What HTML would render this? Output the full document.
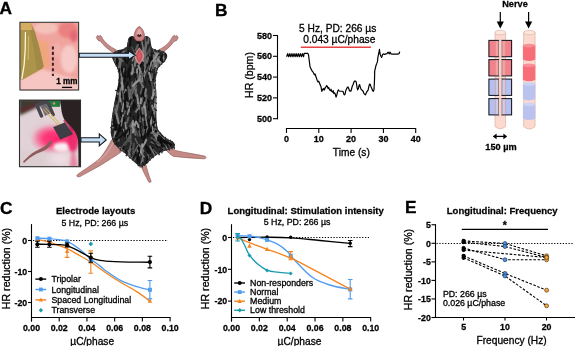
<!DOCTYPE html>
<html><head><meta charset="utf-8"><style>
html,body{margin:0;padding:0;background:#fff;overflow:hidden}
svg{display:block;will-change:transform}
text{font-family:"Liberation Sans",sans-serif}
</style></head><body>
<svg width="575" height="346" viewBox="0 0 575 346">
<text x="0" y="0" transform="translate(-0.6,13.6) scale(1,1.0)" font-size="17.3" font-weight="bold" text-anchor="start" fill="#000" stroke="#000" stroke-width="0.35" >A</text>
<text x="0" y="0" transform="translate(215.1,15.9) scale(1,1.0)" font-size="17.3" font-weight="bold" text-anchor="start" fill="#000" stroke="#000" stroke-width="0.35" >B</text>
<text x="0" y="0" transform="translate(-0.1,214.0) scale(1,1.0)" font-size="17.3" font-weight="bold" text-anchor="start" fill="#000" stroke="#000" stroke-width="0.35" >C</text>
<text x="0" y="0" transform="translate(199.8,213.6) scale(1,1.0)" font-size="17.3" font-weight="bold" text-anchor="start" fill="#000" stroke="#000" stroke-width="0.35" >D</text>
<text x="0" y="0" transform="translate(405.1,213.4) scale(1,1.0)" font-size="17.3" font-weight="bold" text-anchor="start" fill="#000" stroke="#000" stroke-width="0.35" >E</text>
<g stroke="#000" stroke-width="1.1" fill="none">
<path d="M277.5,35.0 V119.2"/>
<path d="M273.0,35.5 H278"/>
<path d="M273.0,56.3 H278"/>
<path d="M273.0,77.1 H278"/>
<path d="M273.0,97.9 H278"/>
<path d="M273.0,118.7 H278"/>
<path d="M285.95,128.5 H415.7"/>
<path d="M286.5,128 V132.9"/>
<path d="M318.8,128 V132.9"/>
<path d="M351.1,128 V132.9"/>
<path d="M383.4,128 V132.9"/>
<path d="M415.7,128 V132.9"/>
</g>
<text x="0" y="0" transform="translate(271.9,38.55) scale(1,1.1)" font-size="9.0" font-weight="bold" text-anchor="end" fill="#000" stroke="#000" stroke-width="0.26" >580</text>
<text x="0" y="0" transform="translate(271.9,59.349999999999994) scale(1,1.1)" font-size="9.0" font-weight="bold" text-anchor="end" fill="#000" stroke="#000" stroke-width="0.26" >560</text>
<text x="0" y="0" transform="translate(271.9,80.14999999999999) scale(1,1.1)" font-size="9.0" font-weight="bold" text-anchor="end" fill="#000" stroke="#000" stroke-width="0.26" >540</text>
<text x="0" y="0" transform="translate(271.9,100.95) scale(1,1.1)" font-size="9.0" font-weight="bold" text-anchor="end" fill="#000" stroke="#000" stroke-width="0.26" >520</text>
<text x="0" y="0" transform="translate(271.9,121.75) scale(1,1.1)" font-size="9.0" font-weight="bold" text-anchor="end" fill="#000" stroke="#000" stroke-width="0.26" >500</text>
<text x="0" y="0" transform="translate(286.5,141.7) scale(1,1.1)" font-size="9.0" font-weight="bold" text-anchor="middle" fill="#000" stroke="#000" stroke-width="0.26" >0</text>
<text x="0" y="0" transform="translate(318.8,141.7) scale(1,1.1)" font-size="9.0" font-weight="bold" text-anchor="middle" fill="#000" stroke="#000" stroke-width="0.26" >10</text>
<text x="0" y="0" transform="translate(351.1,141.7) scale(1,1.1)" font-size="9.0" font-weight="bold" text-anchor="middle" fill="#000" stroke="#000" stroke-width="0.26" >20</text>
<text x="0" y="0" transform="translate(383.4,141.7) scale(1,1.1)" font-size="9.0" font-weight="bold" text-anchor="middle" fill="#000" stroke="#000" stroke-width="0.26" >30</text>
<text x="0" y="0" transform="translate(415.7,141.7) scale(1,1.1)" font-size="9.0" font-weight="bold" text-anchor="middle" fill="#000" stroke="#000" stroke-width="0.26" >40</text>
<text x="0" y="0" transform="translate(351.3,156.0) scale(1,1.0)" font-size="10.2" text-anchor="middle" fill="#000" stroke="#000" stroke-width="0.3" >Time (s)</text>
<text x="0" y="0" transform="translate(252.7,75.0) rotate(-90) scale(1,1.0)" font-size="10.6" text-anchor="middle" fill="#000" stroke="#000" stroke-width="0.3" >HR (bpm)</text>
<text x="0" y="0" transform="translate(337.7,31.7) scale(1,1.0)" font-size="10.2" text-anchor="middle" fill="#000" stroke="#000" stroke-width="0.3" >5 Hz, PD: 266 µs</text>
<text x="0" y="0" transform="translate(339.3,42.7) scale(1,1.0)" font-size="10.2" text-anchor="middle" fill="#000" stroke="#000" stroke-width="0.3" >0.043 µC/phase</text>
<path d="M300.8,47.2 H370.9" stroke="#ec3f3f" stroke-width="1.5"/>
<polyline points="286.6,56.7 287.66,53.6 288.72,56.7 289.78,53.6 290.84,56.7 291.9,53.6 292.96,56.7 294.02,53.6 295.08,56.7 296.14,53.6 297.2,56.7 298.26,53.6 299.32,56.7 300.38,53.6 301.44,56.7 302.5,53.6 303.56,56.7 304.2,53.4 307.9,53.4 308.58,55.23 309.3,61.01 310.02,66.79 310.75,68.24 311.47,69.69 312.19,71.13 312.91,71.85 313.64,73.3 314.36,74.75 315.08,74.02 315.81,76.19 316.53,78.36 317.25,80.53 317.97,81.97 318.7,81.25 319.42,82.7 320.14,84.87 320.87,86.31 321.3,88.48 321.88,91.37 322.31,89.2 323.03,89.93 323.76,88.48 324.48,89.93 325.2,87.76 325.93,87.03 326.65,85.59 327.37,86.31 328.09,88.48 328.82,87.76 329.54,89.93 330.26,90.65 330.99,89.2 331.71,91.37 332.43,92.09 333.15,90.65 333.88,93.54 334.6,92.82 335.32,94.26 336.05,97.15 336.77,94.99 337.49,92.09 338.21,89.93 338.94,90.65 340.0,91.25 342.89,91.25 343.61,93.42 344.34,94.87 345.06,94.14 345.78,90.53 346.51,89.08 347.23,87.64 347.95,86.91 348.67,88.36 349.4,90.53 350.12,91.25 350.84,91.25 351.57,89.08 352.29,86.19 353.01,84.75 353.73,82.58 354.46,81.13 355.61,81.13 356.19,81.85 356.63,84.75 357.06,87.64 357.64,89.81 358.36,88.36 359.08,85.47 359.66,84.75 360.24,86.91 360.96,89.08 361.69,89.81 362.41,90.53 363.13,91.25 363.85,93.42 364.58,94.14 365.3,94.87 366.02,93.42 366.75,91.97 367.47,90.96 368.19,89.81 368.91,86.19 369.64,84.02 370.36,84.75 371.08,86.91 371.81,88.36 372.53,90.53 373.25,91.25 373.97,89.81 374.41,82.58 374.7,72.46 374.49,72.41 375.19,68.94 376.0,65.46 376.92,63.15 377.5,61.41 377.73,58.52 378.31,55.05 378.89,52.73 379.47,49.26 379.81,52.73 380.28,54.47 380.97,56.2 381.55,57.36 382.13,56.2 382.59,54.47 383.52,53.89 384.68,54.47 385.83,53.89 386.99,53.66 387.57,52.73 388.15,52.15 388.73,53.31 389.31,53.89 389.88,52.15 390.46,52.73 391.04,53.89 392.2,54.12 393.36,54.12 395.09,54.12 397.41,54.12 399.14,53.66 399.72,51.57" fill="none" stroke="#000" stroke-width="1.2" stroke-linejoin="round"/>
<text x="0" y="0" transform="translate(515,7.3) scale(1,1.0)" font-size="9.2" font-weight="bold" text-anchor="middle" fill="#000" stroke="#000" stroke-width="0.26" >Nerve</text>
<path d="M500.3,12.0 V22.5" stroke="#000" stroke-width="1.2"/>
<path d="M496.7,21.5 L500.3,28.5 L503.90000000000003,21.5 Z" fill="#000"/>
<path d="M528.6,12.0 V22.5" stroke="#000" stroke-width="1.2"/>
<path d="M525.0,21.5 L528.6,28.5 L532.2,21.5 Z" fill="#000"/>
<g stroke="#d9a79c" stroke-width="0.6">
<path d="M495,32.5 V126.5 Q500.3,131 505.6,126.5 V32.5 Z" fill="#fbd9cf"/>
<ellipse cx="500.3" cy="32.6" rx="5.3" ry="2.2" fill="#fde6df"/>
</g>
<rect x="488.9" y="40.4" width="9.9" height="16.3" fill="#f3818a" stroke="#15151f" stroke-width="1.05"/>
<rect x="495.3" y="40.9" width="3.5" height="15.3" fill="#fde0d8" opacity="0.35"/>
<rect x="501.7" y="40.4" width="9.9" height="16.3" fill="#f3818a" stroke="#15151f" stroke-width="1.05"/>
<rect x="501.7" y="40.9" width="3.8" height="15.3" fill="#fde0d8" opacity="0.35"/>
<rect x="498.8" y="40.4" width="2.9" height="16.3" fill="#f9d3ca"/>
<path d="M495.4,41.0 V56.099999999999994 M505.4,41.0 V56.099999999999994" stroke="#c88a86" stroke-width="0.6" opacity="0.8"/>
<rect x="488.9" y="59.6" width="9.9" height="16.3" fill="#f3818a" stroke="#15151f" stroke-width="1.05"/>
<rect x="495.3" y="60.1" width="3.5" height="15.3" fill="#fde0d8" opacity="0.35"/>
<rect x="501.7" y="59.6" width="9.9" height="16.3" fill="#f3818a" stroke="#15151f" stroke-width="1.05"/>
<rect x="501.7" y="60.1" width="3.8" height="15.3" fill="#fde0d8" opacity="0.35"/>
<rect x="498.8" y="59.6" width="2.9" height="16.3" fill="#f9d3ca"/>
<path d="M495.4,60.2 V75.3 M505.4,60.2 V75.3" stroke="#c88a86" stroke-width="0.6" opacity="0.8"/>
<rect x="488.9" y="79.1" width="9.9" height="16.3" fill="#b6c0ee" stroke="#15151f" stroke-width="1.05"/>
<rect x="495.3" y="79.6" width="3.5" height="15.3" fill="#fde0d8" opacity="0.35"/>
<rect x="501.7" y="79.1" width="9.9" height="16.3" fill="#b6c0ee" stroke="#15151f" stroke-width="1.05"/>
<rect x="501.7" y="79.6" width="3.8" height="15.3" fill="#fde0d8" opacity="0.35"/>
<rect x="498.8" y="79.1" width="2.9" height="16.3" fill="#f9d3ca"/>
<path d="M495.4,79.69999999999999 V94.8 M505.4,79.69999999999999 V94.8" stroke="#c88a86" stroke-width="0.6" opacity="0.8"/>
<rect x="488.9" y="98.6" width="9.9" height="16.3" fill="#b6c0ee" stroke="#15151f" stroke-width="1.05"/>
<rect x="495.3" y="99.1" width="3.5" height="15.3" fill="#fde0d8" opacity="0.35"/>
<rect x="501.7" y="98.6" width="9.9" height="16.3" fill="#b6c0ee" stroke="#15151f" stroke-width="1.05"/>
<rect x="501.7" y="99.1" width="3.8" height="15.3" fill="#fde0d8" opacity="0.35"/>
<rect x="498.8" y="98.6" width="2.9" height="16.3" fill="#f9d3ca"/>
<path d="M495.4,99.19999999999999 V114.3 M505.4,99.19999999999999 V114.3" stroke="#c88a86" stroke-width="0.6" opacity="0.8"/>
<g stroke="#d9a79c" stroke-width="0.6">
<path d="M523.6,32.5 V126.5 Q529.3,131.5 535.1,126.5 V32.5 Z" fill="#fbd9cf"/>
<ellipse cx="529.35" cy="32.6" rx="5.75" ry="2.2" fill="#fde6df"/>
</g>
<path d="M522.9,45.599999999999994 V59.4 Q529.1,62.6 535.3,59.4 V45.599999999999994 Z" fill="#f76e79"/>
<ellipse cx="529.1" cy="45.599999999999994" rx="6.2" ry="1.8" fill="#f98e96"/>
<path d="M522.9,65.3 V79.7 Q529.1,82.89999999999999 535.3,79.7 V65.3 Z" fill="#f76e79"/>
<ellipse cx="529.1" cy="65.3" rx="6.2" ry="1.8" fill="#f98e96"/>
<path d="M522.9,84.1 V98.80000000000001 Q529.1,102.0 535.3,98.80000000000001 V84.1 Z" fill="#b9c3ee"/>
<ellipse cx="529.1" cy="84.1" rx="6.2" ry="1.8" fill="#cbd2f4"/>
<path d="M522.9,104.39999999999999 V118.5 Q529.1,121.69999999999999 535.3,118.5 V104.39999999999999 Z" fill="#b9c3ee"/>
<ellipse cx="529.1" cy="104.39999999999999" rx="6.2" ry="1.8" fill="#cbd2f4"/>
<path d="M495,136.4 H505" stroke="#000" stroke-width="1.3"/>
<path d="M492.8,136.4 L496.6,133.6 L496.6,139.2 Z M507.2,136.4 L503.4,133.6 L503.4,139.2 Z" fill="#000"/>
<text x="0" y="0" transform="translate(501,150.2) scale(1,1.0)" font-size="9.2" font-weight="bold" text-anchor="middle" fill="#000" stroke="#000" stroke-width="0.26" >150 µm</text>
<defs>
<clipPath id="ph1"><rect x="20.1" y="22.5" width="58.6" height="67.7"/></clipPath>
<clipPath id="ph2"><rect x="19.5" y="100.1" width="61" height="66.7"/></clipPath>
<filter id="bl1" x="-20%" y="-20%" width="140%" height="140%"><feGaussianBlur stdDeviation="1.6"/></filter>
<filter id="bl2" x="-50%" y="-50%" width="200%" height="200%"><feGaussianBlur stdDeviation="4"/></filter>
<filter id="bl04" x="-5%" y="-5%" width="110%" height="110%"><feGaussianBlur stdDeviation="0.7"/></filter>
<filter id="bl05"><feGaussianBlur stdDeviation="0.6"/></filter>
<radialGradient id="glow" cx="0.5" cy="0.5" r="0.5"><stop offset="0" stop-color="#ff1f6a" stop-opacity="1"/><stop offset="0.45" stop-color="#ff2f72" stop-opacity="0.85"/><stop offset="1" stop-color="#ff6a90" stop-opacity="0"/></radialGradient>
<linearGradient id="gold" x1="0" y1="0" x2="1" y2="0"><stop offset="0" stop-color="#c9a24c"/><stop offset="0.35" stop-color="#f3e2a0"/><stop offset="0.5" stop-color="#b59a48"/><stop offset="1" stop-color="#a88f45"/></linearGradient>
</defs>
<g clip-path="url(#ph1)">
<rect x="19" y="22" width="61" height="70" fill="#f0a49e"/>
<g filter="url(#bl1)">
<ellipse cx="46" cy="28" rx="12" ry="6" fill="#f5c2ba"/>
<ellipse cx="68" cy="30" rx="10" ry="8" fill="#ea8080"/>
<ellipse cx="74" cy="36" rx="4" ry="6" fill="#e46674"/>
<ellipse cx="69" cy="59" rx="8.5" ry="14" fill="#f7cac8"/>
<ellipse cx="57" cy="50" rx="4" ry="7" fill="#f2b0aa"/>
<path d="M35,40 L48,42 L50,66 L44,70 Z" fill="#f0a57c"/>
<path d="M19,80 L42,69 L58,74 L80,80 L80,92 L19,92 Z" fill="#f5c6c2"/>
</g>
<path d="M20,22.5 L30.5,22.5 L35,32 L40,50 L43.6,66 L42.5,68.5 L23,79.5 L20,79.5 Z" fill="#ad944c" filter="url(#bl05)"/>
<path d="M31,24 L35,32 L40,50 L43.6,66 L42.5,68.5 L37,70 L34,50 L30,30 Z" fill="#9d8744" opacity="0.8" filter="url(#bl05)"/>
<path d="M20,22.5 L31,22.5 L32.5,30 L20,30 Z" fill="#d4ac62" filter="url(#bl05)"/>
<path d="M25.5,32 L25.2,50 L24,66 L21.8,79" stroke="#fff6d6" stroke-width="1.3" fill="none" filter="url(#bl05)"/>
<path d="M28.5,36 L28.2,60" stroke="#e8d890" stroke-width="0.8" fill="none" opacity="0.7"/>
</g>
<path d="M52.9,46.4 V76" stroke="#3a2226" stroke-width="2.0" stroke-dasharray="3.1,2.35"/>
<text x="0" y="0" transform="translate(66.9,84.4) scale(1,1.05)" font-size="8.1" font-weight="bold" text-anchor="middle" fill="#000" stroke="#000" stroke-width="0.26" >1 mm</text>
<path d="M62.0,87.4 H72.1" stroke="#000" stroke-width="1.3"/>
<rect x="19.9" y="22.3" width="58.7" height="67.7" fill="none" stroke="#3a3a3a" stroke-width="1.1"/>
<g clip-path="url(#ph2)">
<rect x="19" y="99" width="62" height="69" fill="#e0d2d6"/>
<g filter="url(#bl1)">
<path d="M19,99 L62,99 L62,104 L46,104.5 L38,107 L22,114.5 L19,115 Z" fill="#3f3a30"/>
<path d="M19,109 L37,103 L39,105.5 L20,113.5 Z" fill="#5a2c2c"/>
<path d="M19,150 L40,152 L52,146 L72,146 L76,168 L19,168 Z" fill="#dccdd1"/>
</g>
<rect x="48" y="100.3" width="12" height="6.5" fill="#217b3c" filter="url(#bl05)"/>
<circle cx="54" cy="103.5" r="1.3" fill="#d88a8e"/>
<ellipse cx="56" cy="139" rx="26" ry="16" fill="url(#glow)"/>
<ellipse cx="47" cy="137" rx="10" ry="8" fill="#ff2a72" opacity="0.55" filter="url(#bl2)"/>
<ellipse cx="62" cy="147" rx="9" ry="4.5" fill="#fbeef3" filter="url(#bl1)"/>
<ellipse cx="60" cy="159" rx="12" ry="6" fill="#f2e2e8" filter="url(#bl2)"/>
<ellipse cx="73" cy="138" rx="6" ry="14" fill="#ee2268" opacity="0.9" filter="url(#bl1)"/>
<path d="M60.5,99 L82,99 L82,168 L78.5,168 C78.5,160 78.5,150 78,140 C77,135 75,131 72,128 C69,125 66,122 64,119 C62,115 61.2,110 61,106 Z" fill="#2b2022" filter="url(#bl05)"/>
<path d="M74,150 C76,156 77,162 77.5,168 L70,168 C70,162 71,156 72,150 Z" fill="#e8557f" opacity="0.6" filter="url(#bl1)"/>
<path d="M64,120 C67,124 70,127 73,131" stroke="#b01c4a" stroke-width="2.2" fill="none" opacity="0.7" filter="url(#bl05)"/>
<path d="M41.5,116 L36.8,105 L47.4,101.6 L53.2,114.6" stroke="#47464e" stroke-width="3.4" fill="none" stroke-linejoin="round" stroke-linecap="round"/>
<path d="M40.5,106 L47,104 L51,113 L45,116 Z" fill="#5a5860" opacity="0.8"/>
<path d="M43.5,109.5 L58.5,125.5 M45.5,108 L60,124" stroke="#d4b04a" stroke-width="0.9" fill="none"/>
<path d="M53.6,127.2 L64.8,122.8 L72.6,134 L60.4,139.2 Z" fill="#3f3e47" stroke="#2a2a30" stroke-width="0.5"/>
<path d="M23,161.5 C28,157 31,153.5 35,151.5 C39,149.5 42,148 45,146 C47,144.5 48.5,142.5 50,140.5 L52.5,141.8 C51,144.8 49.5,147.2 46.5,149.2 C43,151.3 40,152.3 36.5,153.8 C32,156 28,159.5 24,163 Z" fill="#8e5c5a" filter="url(#bl05)"/>
</g>
<rect x="19.5" y="100.1" width="61" height="66.6" fill="none" stroke="#2e2e2e" stroke-width="1.1"/>
<path d="M112,139.5 C116.5,141.5 120.5,145 124,149.5 C119.5,153.5 113,157.5 107,161.2 C100,166 90,171 80,176.6 C77.5,177.6 75.8,176 77.5,174.5 C86,168.5 95,163 100.5,157.5 C104.5,153 108,146.5 112,139.5 Z" fill="#c48a86" stroke="#8a5450" stroke-width="0.6"/>
<path d="M113,143 C110,150 104,157 97,162" stroke="#dcb0ae" stroke-width="1.2" fill="none" opacity="0.7"/>
<path d="M165.5,146.5 C170,146.5 173.5,148.5 175.5,150.5 C184.5,152.5 195,154 204.5,156 C206.6,156.6 206.4,158.8 204,158.8 C194,158.3 183,157.4 173.5,156.4 C169.8,154.6 167.2,151.6 165.5,149 Z" fill="#c48a86" stroke="#8a5450" stroke-width="0.6"/>
<path d="M139.2,161.5 L145.2,161.5 C146.6,168 148.6,175 151.2,181.6 C150.6,182.6 149.4,182.6 148.8,182 C145.4,176 142,169 139.2,161.5 Z" fill="#c48a86" stroke="#8a5450" stroke-width="0.6"/>
<path d="M96.3,37.4 L97.6,35.4 L99.2,36.6 L100.2,35.2 L101.6,36.8 L102.4,38.4 C105,42.5 109.5,46.5 116.5,50 L114.2,53.2 C108,49.5 103.5,45.5 100.6,41.3 L98.2,40.4 Z" fill="#c48a88" stroke="#84484a" stroke-width="0.6"/>
<path d="M178.2,37.6 L176.8,35.6 L175.2,36.4 L174.3,35.2 L172.6,36.6 L171.6,38.4 C169.5,42.5 165.5,46.5 158.8,49.8 L161.2,53 C167.2,49.5 171.4,45.5 173.8,41.5 L176.6,40.6 Z" fill="#c48a88" stroke="#84484a" stroke-width="0.6"/>
<defs><clipPath id="mb"><path d="M129,38.5 C129.63,37.43 130.92,36.72 132.00,36.60 C133.08,36.48 134.28,37.47 135.50,37.80 C136.72,38.13 138.05,38.60 139.30,38.60 C140.55,38.60 141.80,38.13 143.00,37.80 C144.20,37.47 145.42,36.48 146.50,36.60 C147.58,36.72 148.88,37.43 149.50,38.50 C150.12,39.57 149.87,41.42 150.20,43.00 C150.53,44.58 150.62,46.80 151.50,48.00 C152.38,49.20 154.00,49.70 155.50,50.20 C157.00,50.70 159.00,50.60 160.50,51.00 C162.00,51.40 163.48,51.83 164.50,52.60 C165.52,53.37 166.52,54.37 166.60,55.60 C166.68,56.83 165.93,58.60 165.00,60.00 C164.07,61.40 162.23,62.67 161.00,64.00 C159.77,65.33 158.40,66.50 157.60,68.00 C156.80,69.50 156.63,71.17 156.20,73.00 C155.77,74.83 155.17,76.83 155.00,79.00 C154.83,81.17 155.07,83.67 155.20,86.00 C155.33,88.33 155.70,89.67 155.80,93.00 C155.90,96.33 155.78,101.67 155.80,106.00 C155.82,110.33 155.62,115.00 155.90,119.00 C156.18,123.00 156.48,127.25 157.50,130.00 C158.52,132.75 160.33,133.88 162.00,135.50 C163.67,137.12 165.75,138.62 167.50,139.70 C169.25,140.78 171.38,140.95 172.50,142.00 C173.62,143.05 174.37,144.97 174.20,146.00 C174.03,147.03 173.20,147.45 171.50,148.20 C169.80,148.95 166.42,149.53 164.00,150.50 C161.58,151.47 159.17,152.67 157.00,154.00 C154.83,155.33 152.83,156.92 151.00,158.50 C149.17,160.08 147.67,162.28 146.00,163.50 C144.33,164.72 142.42,165.72 141.00,165.80 C139.58,165.88 139.13,165.22 137.50,164.00 C135.87,162.78 133.20,160.33 131.20,158.50 C129.20,156.67 127.53,154.75 125.50,153.00 C123.47,151.25 120.92,149.83 119.00,148.00 C117.08,146.17 115.25,144.33 114.00,142.00 C112.75,139.67 111.87,137.00 111.50,134.00 C111.13,131.00 111.58,127.17 111.80,124.00 C112.02,120.83 112.35,118.17 112.80,115.00 C113.25,111.83 113.82,108.67 114.50,105.00 C115.18,101.33 116.15,96.83 116.90,93.00 C117.65,89.17 118.62,85.33 119.00,82.00 C119.38,78.67 119.45,75.50 119.20,73.00 C118.95,70.50 118.28,68.83 117.50,67.00 C116.72,65.17 115.28,63.58 114.50,62.00 C113.72,60.42 112.95,58.92 112.80,57.50 C112.65,56.08 112.82,54.58 113.60,53.50 C114.38,52.42 116.02,51.62 117.50,51.00 C118.98,50.38 120.95,50.37 122.50,49.80 C124.05,49.23 125.85,48.73 126.80,47.60 C127.75,46.47 127.83,44.52 128.20,43.00 C128.57,41.48 128.37,39.57 129.00,38.50 Z"/></clipPath></defs>
<path d="M129,38.5 C129.63,37.43 130.92,36.72 132.00,36.60 C133.08,36.48 134.28,37.47 135.50,37.80 C136.72,38.13 138.05,38.60 139.30,38.60 C140.55,38.60 141.80,38.13 143.00,37.80 C144.20,37.47 145.42,36.48 146.50,36.60 C147.58,36.72 148.88,37.43 149.50,38.50 C150.12,39.57 149.87,41.42 150.20,43.00 C150.53,44.58 150.62,46.80 151.50,48.00 C152.38,49.20 154.00,49.70 155.50,50.20 C157.00,50.70 159.00,50.60 160.50,51.00 C162.00,51.40 163.48,51.83 164.50,52.60 C165.52,53.37 166.52,54.37 166.60,55.60 C166.68,56.83 165.93,58.60 165.00,60.00 C164.07,61.40 162.23,62.67 161.00,64.00 C159.77,65.33 158.40,66.50 157.60,68.00 C156.80,69.50 156.63,71.17 156.20,73.00 C155.77,74.83 155.17,76.83 155.00,79.00 C154.83,81.17 155.07,83.67 155.20,86.00 C155.33,88.33 155.70,89.67 155.80,93.00 C155.90,96.33 155.78,101.67 155.80,106.00 C155.82,110.33 155.62,115.00 155.90,119.00 C156.18,123.00 156.48,127.25 157.50,130.00 C158.52,132.75 160.33,133.88 162.00,135.50 C163.67,137.12 165.75,138.62 167.50,139.70 C169.25,140.78 171.38,140.95 172.50,142.00 C173.62,143.05 174.37,144.97 174.20,146.00 C174.03,147.03 173.20,147.45 171.50,148.20 C169.80,148.95 166.42,149.53 164.00,150.50 C161.58,151.47 159.17,152.67 157.00,154.00 C154.83,155.33 152.83,156.92 151.00,158.50 C149.17,160.08 147.67,162.28 146.00,163.50 C144.33,164.72 142.42,165.72 141.00,165.80 C139.58,165.88 139.13,165.22 137.50,164.00 C135.87,162.78 133.20,160.33 131.20,158.50 C129.20,156.67 127.53,154.75 125.50,153.00 C123.47,151.25 120.92,149.83 119.00,148.00 C117.08,146.17 115.25,144.33 114.00,142.00 C112.75,139.67 111.87,137.00 111.50,134.00 C111.13,131.00 111.58,127.17 111.80,124.00 C112.02,120.83 112.35,118.17 112.80,115.00 C113.25,111.83 113.82,108.67 114.50,105.00 C115.18,101.33 116.15,96.83 116.90,93.00 C117.65,89.17 118.62,85.33 119.00,82.00 C119.38,78.67 119.45,75.50 119.20,73.00 C118.95,70.50 118.28,68.83 117.50,67.00 C116.72,65.17 115.28,63.58 114.50,62.00 C113.72,60.42 112.95,58.92 112.80,57.50 C112.65,56.08 112.82,54.58 113.60,53.50 C114.38,52.42 116.02,51.62 117.50,51.00 C118.98,50.38 120.95,50.37 122.50,49.80 C124.05,49.23 125.85,48.73 126.80,47.60 C127.75,46.47 127.83,44.52 128.20,43.00 C128.57,41.48 128.37,39.57 129.00,38.50 Z" fill="#262626" stroke="#262626" stroke-width="1.2"/>
<g clip-path="url(#mb)"><g filter="url(#bl04)" stroke-linecap="round" fill="none">
<path d="M130.0,54.8 q-1.4,4.2 -2.9,8.4" stroke="#0c0c0c" stroke-width="1.27" opacity="0.9"/>
<path d="M110.5,91.8 q0.1,2.7 -0.9,5.3" stroke="#0c0c0c" stroke-width="1.71" opacity="0.9"/>
<path d="M116.4,64.2 q-2.3,4.1 -3.2,8.2" stroke="#0c0c0c" stroke-width="2.37" opacity="0.9"/>
<path d="M166.4,72.9 q0.9,2.9 0.7,5.8" stroke="#0c0c0c" stroke-width="1.57" opacity="0.9"/>
<path d="M120.3,111.2 q0.7,4.3 2.3,8.5" stroke="#0c0c0c" stroke-width="1.27" opacity="0.9"/>
<path d="M154.3,91.0 q-1.3,3.3 -1.8,6.6" stroke="#7e7e7e" stroke-width="1.63" opacity="0.9"/>
<path d="M120.2,137.2 q-2.2,1.3 -4.8,2.7" stroke="#0c0c0c" stroke-width="1.74" opacity="0.9"/>
<path d="M113.0,102.1 q1.2,2.8 2.2,5.6" stroke="#9a9a9a" stroke-width="1.29" opacity="0.9"/>
<path d="M161.7,142.2 q4.0,1.3 6.5,2.7" stroke="#555555" stroke-width="2.21" opacity="0.9"/>
<path d="M140.2,122.0 q-0.5,2.6 -1.5,5.2" stroke="#9a9a9a" stroke-width="1.89" opacity="0.9"/>
<path d="M138.3,128.9 q2.0,4.7 4.1,9.5" stroke="#0c0c0c" stroke-width="1.93" opacity="0.9"/>
<path d="M122.8,72.7 q-2.6,3.9 -5.2,7.9" stroke="#0c0c0c" stroke-width="2.30" opacity="0.9"/>
<path d="M119.3,87.6 q-0.9,3.3 -1.4,6.5" stroke="#9a9a9a" stroke-width="1.70" opacity="0.9"/>
<path d="M168.1,160.5 q2.4,1.9 4.5,3.8" stroke="#0c0c0c" stroke-width="1.78" opacity="0.9"/>
<path d="M125.9,35.5 q0.0,3.7 -1.4,7.4" stroke="#0c0c0c" stroke-width="1.88" opacity="0.9"/>
<path d="M155.0,102.5 q0.0,4.3 0.4,8.7" stroke="#9a9a9a" stroke-width="2.16" opacity="0.9"/>
<path d="M135.1,48.6 q-0.1,4.4 0.8,8.8" stroke="#0c0c0c" stroke-width="1.28" opacity="0.9"/>
<path d="M119.0,79.5 q-1.2,2.6 -0.9,5.2" stroke="#0c0c0c" stroke-width="1.64" opacity="0.9"/>
<path d="M167.5,115.4 q-0.2,2.9 0.0,5.9" stroke="#0c0c0c" stroke-width="1.62" opacity="0.9"/>
<path d="M116.4,146.2 q-4.2,3.8 -7.9,7.6" stroke="#0c0c0c" stroke-width="1.32" opacity="0.9"/>
<path d="M126.0,143.6 q-1.3,2.2 -4.0,4.5" stroke="#626262" stroke-width="2.03" opacity="0.9"/>
<path d="M159.6,74.0 q-0.4,4.4 -0.9,8.8" stroke="#0c0c0c" stroke-width="2.21" opacity="0.9"/>
<path d="M169.8,81.6 q1.8,3.0 2.1,6.0" stroke="#8c8c8c" stroke-width="2.17" opacity="0.9"/>
<path d="M166.0,140.6 q4.9,2.7 8.3,5.5" stroke="#707070" stroke-width="2.08" opacity="0.9"/>
<path d="M161.7,96.9 q1.4,3.0 1.3,6.0" stroke="#707070" stroke-width="1.74" opacity="0.9"/>
<path d="M175.2,160.1 q2.7,2.6 4.9,5.2" stroke="#0c0c0c" stroke-width="1.45" opacity="0.9"/>
<path d="M169.2,145.1 q4.5,0.6 7.8,1.2" stroke="#0c0c0c" stroke-width="1.99" opacity="0.9"/>
<path d="M161.2,133.3 q2.6,3.5 3.7,6.9" stroke="#0c0c0c" stroke-width="2.16" opacity="0.9"/>
<path d="M134.9,87.6 q0.8,5.3 0.3,10.7" stroke="#0c0c0c" stroke-width="1.38" opacity="0.9"/>
<path d="M162.8,54.1 q0.3,4.9 1.8,9.8" stroke="#9a9a9a" stroke-width="2.32" opacity="0.9"/>
<path d="M145.3,37.8 q0.7,4.9 0.2,9.8" stroke="#626262" stroke-width="1.72" opacity="0.9"/>
<path d="M164.2,62.6 q0.6,3.2 0.9,6.4" stroke="#0c0c0c" stroke-width="1.49" opacity="0.9"/>
<path d="M125.6,89.9 q-0.6,2.8 -1.4,5.6" stroke="#8c8c8c" stroke-width="2.18" opacity="0.9"/>
<path d="M164.2,150.0 q2.4,2.1 4.0,4.2" stroke="#626262" stroke-width="1.93" opacity="0.9"/>
<path d="M118.2,53.5 q-1.0,4.2 -2.5,8.3" stroke="#0c0c0c" stroke-width="1.27" opacity="0.9"/>
<path d="M144.1,98.2 q-1.0,4.8 -0.7,9.6" stroke="#0c0c0c" stroke-width="1.25" opacity="0.9"/>
<path d="M138.7,38.7 q1.1,5.2 0.7,10.3" stroke="#0c0c0c" stroke-width="1.59" opacity="0.9"/>
<path d="M149.2,61.1 q2.3,2.8 3.5,5.7" stroke="#626262" stroke-width="2.04" opacity="0.9"/>
<path d="M172.1,69.0 q-0.5,4.2 0.2,8.4" stroke="#7e7e7e" stroke-width="1.36" opacity="0.9"/>
<path d="M138.1,44.5 q-1.0,3.0 -2.5,5.9" stroke="#626262" stroke-width="2.33" opacity="0.9"/>
<path d="M132.9,68.2 q-0.7,2.9 -1.1,5.7" stroke="#9a9a9a" stroke-width="2.34" opacity="0.9"/>
<path d="M141.1,164.7 q-1.1,4.9 -1.7,9.9" stroke="#707070" stroke-width="1.71" opacity="0.9"/>
<path d="M114.3,82.9 q-1.2,3.4 -1.9,6.8" stroke="#9a9a9a" stroke-width="1.22" opacity="0.9"/>
<path d="M150.4,102.1 q-1.7,2.3 -2.7,4.7" stroke="#555555" stroke-width="1.30" opacity="0.9"/>
<path d="M169.6,58.8 q-0.1,4.8 0.5,9.5" stroke="#9a9a9a" stroke-width="2.18" opacity="0.9"/>
<path d="M118.2,155.4 q-2.5,3.5 -4.8,6.9" stroke="#0c0c0c" stroke-width="2.03" opacity="0.9"/>
<path d="M112.9,157.9 q-3.1,3.6 -5.0,7.2" stroke="#555555" stroke-width="1.52" opacity="0.9"/>
<path d="M108.8,165.3 q-1.2,3.3 -3.7,6.5" stroke="#0c0c0c" stroke-width="2.05" opacity="0.9"/>
<path d="M173.9,69.3 q-1.1,2.8 -2.3,5.6" stroke="#626262" stroke-width="1.55" opacity="0.9"/>
<path d="M120.1,80.5 q0.8,2.5 0.9,5.0" stroke="#0c0c0c" stroke-width="1.22" opacity="0.9"/>
<path d="M145.5,59.8 q-0.4,3.9 -1.0,7.8" stroke="#7e7e7e" stroke-width="1.99" opacity="0.9"/>
<path d="M168.4,162.1 q3.1,2.1 5.5,4.1" stroke="#0c0c0c" stroke-width="2.26" opacity="0.9"/>
<path d="M117.5,164.6 q-4.4,4.0 -7.5,7.9" stroke="#707070" stroke-width="1.72" opacity="0.9"/>
<path d="M153.2,84.9 q-0.2,4.0 0.4,8.0" stroke="#8c8c8c" stroke-width="1.49" opacity="0.9"/>
<path d="M139.2,55.6 q-0.5,3.8 0.5,7.7" stroke="#8c8c8c" stroke-width="1.59" opacity="0.9"/>
<path d="M168.0,63.5 q-2.5,2.2 -4.2,4.4" stroke="#0c0c0c" stroke-width="1.30" opacity="0.9"/>
<path d="M152.6,67.5 q-2.3,4.3 -4.3,8.6" stroke="#0c0c0c" stroke-width="1.90" opacity="0.9"/>
<path d="M128.4,117.5 q-0.5,2.6 -1.6,5.3" stroke="#626262" stroke-width="1.99" opacity="0.9"/>
<path d="M167.8,86.0 q-0.1,3.4 -1.2,6.9" stroke="#9a9a9a" stroke-width="1.37" opacity="0.9"/>
<path d="M156.6,102.2 q0.1,3.8 0.1,7.6" stroke="#8c8c8c" stroke-width="1.37" opacity="0.9"/>
<path d="M142.3,144.4 q-0.7,4.8 -1.8,9.7" stroke="#9a9a9a" stroke-width="2.35" opacity="0.9"/>
<path d="M113.8,40.5 q1.6,4.1 3.1,8.3" stroke="#7e7e7e" stroke-width="2.20" opacity="0.9"/>
<path d="M150.7,117.0 q0.8,4.5 0.2,9.1" stroke="#9a9a9a" stroke-width="2.32" opacity="0.9"/>
<path d="M114.3,103.9 q-0.4,4.7 -0.0,9.5" stroke="#555555" stroke-width="2.22" opacity="0.9"/>
<path d="M159.4,65.2 q2.0,3.8 4.7,7.5" stroke="#0c0c0c" stroke-width="2.29" opacity="0.9"/>
<path d="M111.2,117.9 q-0.0,3.1 -0.9,6.1" stroke="#707070" stroke-width="1.50" opacity="0.9"/>
<path d="M128.7,109.4 q-0.6,2.5 -1.1,5.0" stroke="#9a9a9a" stroke-width="1.46" opacity="0.9"/>
<path d="M156.2,72.4 q0.4,3.9 -0.7,7.8" stroke="#8c8c8c" stroke-width="1.44" opacity="0.9"/>
<path d="M171.7,37.3 q-0.6,3.7 -2.5,7.3" stroke="#707070" stroke-width="1.66" opacity="0.9"/>
<path d="M171.3,44.8 q1.2,2.1 3.6,4.2" stroke="#707070" stroke-width="2.34" opacity="0.9"/>
<path d="M163.8,101.6 q-0.2,5.2 0.7,10.3" stroke="#7e7e7e" stroke-width="1.67" opacity="0.9"/>
<path d="M172.6,124.3 q0.5,3.6 1.5,7.3" stroke="#7e7e7e" stroke-width="1.61" opacity="0.9"/>
<path d="M165.1,35.2 q0.0,4.7 -0.8,9.5" stroke="#9a9a9a" stroke-width="1.21" opacity="0.9"/>
<path d="M125.2,43.5 q0.4,3.6 0.9,7.3" stroke="#555555" stroke-width="1.63" opacity="0.9"/>
<path d="M126.7,41.3 q-0.4,2.8 -0.7,5.6" stroke="#626262" stroke-width="2.37" opacity="0.9"/>
<path d="M129.5,136.3 q1.2,4.7 2.1,9.5" stroke="#555555" stroke-width="2.17" opacity="0.9"/>
<path d="M170.1,158.2 q3.0,2.0 7.3,4.0" stroke="#7e7e7e" stroke-width="1.94" opacity="0.9"/>
<path d="M167.1,98.6 q1.3,5.2 1.8,10.3" stroke="#707070" stroke-width="1.56" opacity="0.9"/>
<path d="M174.4,69.1 q0.1,4.5 0.5,8.9" stroke="#0c0c0c" stroke-width="1.87" opacity="0.9"/>
<path d="M119.4,56.2 q-0.1,3.0 -1.8,6.0" stroke="#0c0c0c" stroke-width="2.29" opacity="0.9"/>
<path d="M138.6,53.3 q-0.1,3.0 1.2,6.0" stroke="#0c0c0c" stroke-width="1.61" opacity="0.9"/>
<path d="M124.3,68.8 q-2.0,3.9 -3.1,7.8" stroke="#7e7e7e" stroke-width="2.10" opacity="0.9"/>
<path d="M126.4,133.5 q1.3,3.8 2.6,7.6" stroke="#707070" stroke-width="1.35" opacity="0.9"/>
<path d="M150.8,148.0 q2.9,2.3 4.3,4.6" stroke="#0c0c0c" stroke-width="1.74" opacity="0.9"/>
<path d="M165.7,149.3 q2.0,1.6 3.9,3.3" stroke="#7e7e7e" stroke-width="2.36" opacity="0.9"/>
<path d="M113.0,156.9 q-3.8,4.1 -6.6,8.3" stroke="#555555" stroke-width="1.47" opacity="0.9"/>
<path d="M174.1,49.3 q0.1,4.9 1.8,9.8" stroke="#555555" stroke-width="1.86" opacity="0.9"/>
<path d="M161.2,65.5 q3.0,4.5 5.5,8.9" stroke="#707070" stroke-width="2.35" opacity="0.9"/>
<path d="M143.9,92.3 q-1.4,4.7 -1.9,9.4" stroke="#626262" stroke-width="1.67" opacity="0.9"/>
<path d="M148.9,36.4 q0.1,3.4 -1.0,6.7" stroke="#707070" stroke-width="1.97" opacity="0.9"/>
<path d="M140.3,65.8 q-1.4,2.9 -2.8,5.8" stroke="#0c0c0c" stroke-width="1.23" opacity="0.9"/>
<path d="M153.9,90.0 q-0.4,3.2 0.8,6.5" stroke="#707070" stroke-width="1.47" opacity="0.9"/>
<path d="M131.0,90.1 q-0.8,4.5 -1.5,9.0" stroke="#8c8c8c" stroke-width="1.28" opacity="0.9"/>
<path d="M121.6,135.3 q-1.5,2.7 -3.0,5.4" stroke="#555555" stroke-width="2.34" opacity="0.9"/>
<path d="M120.7,64.3 q-0.4,3.7 -0.4,7.5" stroke="#8c8c8c" stroke-width="1.38" opacity="0.9"/>
<path d="M122.5,162.6 q-1.4,2.1 -4.0,4.2" stroke="#0c0c0c" stroke-width="2.28" opacity="0.9"/>
<path d="M157.8,165.7 q3.5,3.7 7.6,7.4" stroke="#9a9a9a" stroke-width="1.76" opacity="0.9"/>
<path d="M157.3,144.9 q4.2,3.3 8.7,6.6" stroke="#0c0c0c" stroke-width="1.30" opacity="0.9"/>
<path d="M168.2,108.5 q1.1,4.4 3.5,8.9" stroke="#0c0c0c" stroke-width="2.16" opacity="0.9"/>
<path d="M156.0,60.6 q-0.8,3.9 -2.8,7.7" stroke="#707070" stroke-width="1.64" opacity="0.9"/>
<path d="M110.1,88.8 q0.6,4.9 -0.1,9.9" stroke="#0c0c0c" stroke-width="1.28" opacity="0.9"/>
<path d="M125.5,132.9 q1.2,5.2 0.9,10.4" stroke="#0c0c0c" stroke-width="1.53" opacity="0.9"/>
<path d="M150.0,69.3 q1.1,4.6 0.9,9.3" stroke="#0c0c0c" stroke-width="2.11" opacity="0.9"/>
<path d="M151.1,158.6 q2.7,1.5 4.1,3.1" stroke="#7e7e7e" stroke-width="2.15" opacity="0.9"/>
<path d="M163.4,52.4 q-1.6,3.8 -2.6,7.5" stroke="#0c0c0c" stroke-width="2.32" opacity="0.9"/>
<path d="M155.1,54.8 q-1.2,3.1 -1.4,6.3" stroke="#8c8c8c" stroke-width="1.29" opacity="0.9"/>
<path d="M159.2,67.4 q0.4,2.6 1.4,5.2" stroke="#0c0c0c" stroke-width="1.86" opacity="0.9"/>
<path d="M174.7,150.7 q4.4,3.6 8.2,7.2" stroke="#0c0c0c" stroke-width="1.80" opacity="0.9"/>
<path d="M138.4,65.7 q1.7,3.6 2.4,7.1" stroke="#9a9a9a" stroke-width="2.11" opacity="0.9"/>
<path d="M128.0,71.6 q0.9,3.1 2.0,6.3" stroke="#0c0c0c" stroke-width="1.51" opacity="0.9"/>
<path d="M120.6,65.9 q-0.9,3.3 -1.1,6.6" stroke="#0c0c0c" stroke-width="1.50" opacity="0.9"/>
<path d="M143.8,120.1 q0.3,2.8 0.6,5.6" stroke="#555555" stroke-width="1.32" opacity="0.9"/>
<path d="M163.7,145.1 q4.9,3.2 8.3,6.5" stroke="#0c0c0c" stroke-width="1.43" opacity="0.9"/>
<path d="M147.7,156.9 q-0.1,3.5 -1.6,7.1" stroke="#0c0c0c" stroke-width="2.13" opacity="0.9"/>
<path d="M115.2,113.1 q0.5,4.2 2.1,8.5" stroke="#0c0c0c" stroke-width="1.64" opacity="0.9"/>
<path d="M121.9,68.4 q0.8,4.3 1.0,8.5" stroke="#0c0c0c" stroke-width="1.59" opacity="0.9"/>
<path d="M120.6,75.9 q0.4,3.1 1.0,6.1" stroke="#8c8c8c" stroke-width="1.78" opacity="0.9"/>
<path d="M162.1,122.0 q2.0,2.7 2.5,5.4" stroke="#0c0c0c" stroke-width="1.53" opacity="0.9"/>
<path d="M153.4,89.7 q-0.5,2.6 0.5,5.3" stroke="#707070" stroke-width="1.70" opacity="0.9"/>
<path d="M160.1,140.1 q3.0,3.2 6.2,6.3" stroke="#7e7e7e" stroke-width="2.28" opacity="0.9"/>
<path d="M163.8,88.2 q1.1,5.1 1.8,10.1" stroke="#0c0c0c" stroke-width="1.86" opacity="0.9"/>
<path d="M169.9,46.7 q-0.8,4.4 -0.4,8.7" stroke="#0c0c0c" stroke-width="1.81" opacity="0.9"/>
<path d="M127.3,103.3 q-0.9,5.1 -2.8,10.2" stroke="#626262" stroke-width="1.56" opacity="0.9"/>
<path d="M111.0,154.6 q-1.0,3.2 -2.7,6.4" stroke="#0c0c0c" stroke-width="2.05" opacity="0.9"/>
<path d="M168.6,118.9 q1.9,4.9 2.7,9.8" stroke="#8c8c8c" stroke-width="2.22" opacity="0.9"/>
<path d="M120.4,63.6 q1.4,3.5 2.1,7.1" stroke="#0c0c0c" stroke-width="1.50" opacity="0.9"/>
<path d="M169.0,40.4 q-0.1,4.2 0.3,8.4" stroke="#555555" stroke-width="2.00" opacity="0.9"/>
<path d="M134.5,94.7 q-0.6,5.0 -0.8,10.1" stroke="#0c0c0c" stroke-width="1.50" opacity="0.9"/>
<path d="M133.0,101.0 q1.2,2.8 2.5,5.5" stroke="#0c0c0c" stroke-width="2.38" opacity="0.9"/>
<path d="M138.4,116.0 q-1.5,4.8 -2.8,9.5" stroke="#555555" stroke-width="1.35" opacity="0.9"/>
<path d="M114.2,92.9 q1.2,3.6 3.6,7.2" stroke="#0c0c0c" stroke-width="1.96" opacity="0.9"/>
<path d="M157.9,136.9 q2.5,2.7 6.1,5.3" stroke="#0c0c0c" stroke-width="2.34" opacity="0.9"/>
<path d="M166.3,165.5 q4.8,1.9 8.6,3.8" stroke="#7e7e7e" stroke-width="1.55" opacity="0.9"/>
<path d="M162.1,124.9 q0.2,4.6 -0.9,9.3" stroke="#707070" stroke-width="1.39" opacity="0.9"/>
<path d="M126.7,141.8 q-1.9,2.5 -3.1,5.0" stroke="#7e7e7e" stroke-width="1.45" opacity="0.9"/>
<path d="M142.4,76.8 q-0.4,2.6 -0.4,5.2" stroke="#9a9a9a" stroke-width="1.59" opacity="0.9"/>
<path d="M161.9,69.6 q-0.0,4.7 -1.5,9.5" stroke="#0c0c0c" stroke-width="2.23" opacity="0.9"/>
<path d="M138.8,103.3 q-1.0,4.5 -1.6,9.0" stroke="#7e7e7e" stroke-width="2.09" opacity="0.9"/>
<path d="M133.6,83.3 q-0.0,2.9 0.8,5.8" stroke="#0c0c0c" stroke-width="1.30" opacity="0.9"/>
<path d="M149.8,160.5 q1.5,3.3 1.7,6.6" stroke="#8c8c8c" stroke-width="2.31" opacity="0.9"/>
<path d="M157.8,132.9 q2.2,1.5 5.6,3.0" stroke="#707070" stroke-width="2.27" opacity="0.9"/>
<path d="M123.5,120.6 q-1.6,2.4 -2.0,4.7" stroke="#0c0c0c" stroke-width="1.63" opacity="0.9"/>
<path d="M132.3,64.4 q-0.0,4.2 1.5,8.4" stroke="#7e7e7e" stroke-width="1.39" opacity="0.9"/>
<path d="M162.5,127.7 q0.7,3.8 0.8,7.7" stroke="#0c0c0c" stroke-width="1.37" opacity="0.9"/>
<path d="M126.3,141.3 q-2.8,4.7 -5.4,9.4" stroke="#8c8c8c" stroke-width="1.97" opacity="0.9"/>
<path d="M171.7,131.1 q2.0,2.0 5.1,4.1" stroke="#7e7e7e" stroke-width="1.42" opacity="0.9"/>
<path d="M170.0,48.7 q-0.3,4.3 0.5,8.7" stroke="#626262" stroke-width="1.37" opacity="0.9"/>
<path d="M149.3,101.4 q-1.0,4.4 -0.6,8.8" stroke="#0c0c0c" stroke-width="1.56" opacity="0.9"/>
<path d="M168.5,137.6 q2.0,4.3 3.6,8.6" stroke="#7e7e7e" stroke-width="1.30" opacity="0.9"/>
<path d="M119.9,165.6 q-2.3,2.6 -3.9,5.3" stroke="#9a9a9a" stroke-width="2.33" opacity="0.9"/>
<path d="M111.6,118.3 q0.2,4.5 1.1,9.0" stroke="#8c8c8c" stroke-width="2.37" opacity="0.9"/>
<path d="M171.1,152.1 q1.7,1.5 4.6,3.1" stroke="#9a9a9a" stroke-width="1.44" opacity="0.9"/>
<path d="M170.2,60.1 q1.4,3.6 1.7,7.1" stroke="#9a9a9a" stroke-width="2.38" opacity="0.9"/>
<path d="M144.5,96.9 q1.4,4.0 1.4,8.1" stroke="#0c0c0c" stroke-width="1.23" opacity="0.9"/>
<path d="M123.9,150.9 q-4.8,2.7 -8.1,5.4" stroke="#626262" stroke-width="1.37" opacity="0.9"/>
<path d="M115.3,156.7 q-2.3,2.5 -5.0,5.0" stroke="#0c0c0c" stroke-width="2.03" opacity="0.9"/>
<path d="M155.4,131.5 q1.7,1.2 4.9,2.3" stroke="#8c8c8c" stroke-width="2.27" opacity="0.9"/>
<path d="M167.0,154.8 q4.5,3.5 8.0,7.1" stroke="#0c0c0c" stroke-width="1.24" opacity="0.9"/>
<path d="M163.2,118.1 q1.2,4.9 1.7,9.8" stroke="#0c0c0c" stroke-width="1.32" opacity="0.9"/>
<path d="M121.9,76.8 q0.3,3.7 1.4,7.4" stroke="#0c0c0c" stroke-width="1.51" opacity="0.9"/>
<path d="M156.7,83.2 q-0.7,3.3 -2.3,6.5" stroke="#8c8c8c" stroke-width="2.09" opacity="0.9"/>
<path d="M110.1,102.9 q-0.2,2.8 0.4,5.6" stroke="#555555" stroke-width="1.85" opacity="0.9"/>
<path d="M166.6,46.9 q0.7,5.0 -0.1,9.9" stroke="#0c0c0c" stroke-width="2.11" opacity="0.9"/>
<path d="M108.3,99.3 q0.1,4.0 -0.1,7.9" stroke="#626262" stroke-width="2.36" opacity="0.9"/>
<path d="M173.1,102.5 q-1.9,4.0 -2.5,8.1" stroke="#626262" stroke-width="1.80" opacity="0.9"/>
<path d="M151.3,45.6 q-2.4,4.4 -4.3,8.7" stroke="#555555" stroke-width="1.95" opacity="0.9"/>
<path d="M135.3,86.7 q-3.0,4.4 -5.3,8.9" stroke="#0c0c0c" stroke-width="1.45" opacity="0.9"/>
<path d="M169.3,100.7 q-1.8,3.4 -2.3,6.9" stroke="#626262" stroke-width="2.33" opacity="0.9"/>
<path d="M148.4,125.3 q-1.2,4.0 -3.3,8.0" stroke="#7e7e7e" stroke-width="1.99" opacity="0.9"/>
<path d="M119.5,92.5 q-0.2,4.8 -0.8,9.6" stroke="#626262" stroke-width="1.60" opacity="0.9"/>
<path d="M155.4,101.5 q-0.5,3.3 -0.1,6.6" stroke="#9a9a9a" stroke-width="1.39" opacity="0.9"/>
<path d="M130.2,103.4 q2.3,2.5 3.2,5.0" stroke="#0c0c0c" stroke-width="1.43" opacity="0.9"/>
<path d="M157.6,48.3 q-1.4,5.2 -2.5,10.5" stroke="#707070" stroke-width="2.08" opacity="0.9"/>
<path d="M121.3,118.6 q-1.2,2.8 -1.0,5.6" stroke="#0c0c0c" stroke-width="1.67" opacity="0.9"/>
<path d="M135.1,138.6 q2.3,4.2 3.8,8.3" stroke="#626262" stroke-width="1.51" opacity="0.9"/>
<path d="M108.4,66.7 q-0.1,5.1 0.0,10.1" stroke="#8c8c8c" stroke-width="2.10" opacity="0.9"/>
<path d="M123.5,129.6 q-2.0,5.0 -2.7,9.9" stroke="#9a9a9a" stroke-width="1.42" opacity="0.9"/>
<path d="M137.4,69.0 q-1.2,4.5 -1.6,9.1" stroke="#9a9a9a" stroke-width="1.96" opacity="0.9"/>
<path d="M136.8,94.6 q1.2,4.3 1.2,8.6" stroke="#9a9a9a" stroke-width="1.99" opacity="0.9"/>
<path d="M168.8,78.0 q-1.3,2.4 -1.6,4.8" stroke="#0c0c0c" stroke-width="1.50" opacity="0.9"/>
<path d="M156.7,159.6 q3.0,0.8 6.0,1.6" stroke="#626262" stroke-width="2.06" opacity="0.9"/>
<path d="M151.5,143.6 q3.9,-0.1 8.1,-0.1" stroke="#0c0c0c" stroke-width="2.02" opacity="0.9"/>
<path d="M159.9,51.0 q-2.4,5.0 -4.1,10.1" stroke="#0c0c0c" stroke-width="1.27" opacity="0.9"/>
<path d="M135.2,36.7 q1.1,3.4 3.0,6.9" stroke="#0c0c0c" stroke-width="1.52" opacity="0.9"/>
<path d="M158.4,158.1 q2.5,2.6 6.2,5.3" stroke="#0c0c0c" stroke-width="1.45" opacity="0.9"/>
<path d="M160.8,141.1 q4.1,1.0 8.6,1.9" stroke="#0c0c0c" stroke-width="2.36" opacity="0.9"/>
<path d="M151.4,142.3 q4.6,1.7 9.3,3.4" stroke="#626262" stroke-width="2.14" opacity="0.9"/>
<path d="M161.3,65.2 q-0.3,4.6 -0.5,9.2" stroke="#7e7e7e" stroke-width="2.01" opacity="0.9"/>
<path d="M162.8,139.7 q3.6,1.3 6.6,2.7" stroke="#8c8c8c" stroke-width="1.96" opacity="0.9"/>
<path d="M132.6,156.7 q-2.8,4.4 -5.1,8.8" stroke="#626262" stroke-width="1.84" opacity="0.9"/>
<path d="M147.6,121.1 q-0.4,3.1 -1.2,6.1" stroke="#0c0c0c" stroke-width="1.55" opacity="0.9"/>
<path d="M147.3,146.9 q1.5,2.7 2.9,5.4" stroke="#0c0c0c" stroke-width="1.68" opacity="0.9"/>
<path d="M149.4,125.1 q-0.8,5.4 -1.7,10.7" stroke="#0c0c0c" stroke-width="2.28" opacity="0.9"/>
<path d="M151.3,73.9 q-0.0,4.0 -0.2,8.0" stroke="#9a9a9a" stroke-width="2.26" opacity="0.9"/>
<path d="M126.0,65.7 q0.3,2.9 -0.7,5.8" stroke="#555555" stroke-width="1.78" opacity="0.9"/>
<path d="M155.6,67.3 q1.5,2.8 2.3,5.5" stroke="#0c0c0c" stroke-width="1.58" opacity="0.9"/>
<path d="M141.8,73.9 q1.3,3.7 2.2,7.5" stroke="#9a9a9a" stroke-width="1.29" opacity="0.9"/>
<path d="M151.3,38.7 q1.2,4.2 2.4,8.3" stroke="#0c0c0c" stroke-width="2.38" opacity="0.9"/>
<path d="M141.0,152.6 q0.9,2.1 3.1,4.2" stroke="#9a9a9a" stroke-width="1.35" opacity="0.9"/>
<path d="M152.8,79.7 q2.4,3.9 5.7,7.8" stroke="#0c0c0c" stroke-width="1.61" opacity="0.9"/>
<path d="M111.6,72.9 q0.4,3.5 1.6,7.0" stroke="#707070" stroke-width="1.80" opacity="0.9"/>
<path d="M142.4,162.7 q-0.2,4.5 -0.6,8.9" stroke="#0c0c0c" stroke-width="1.56" opacity="0.9"/>
<path d="M151.2,137.7 q1.7,1.2 4.6,2.5" stroke="#555555" stroke-width="1.68" opacity="0.9"/>
<path d="M111.2,142.7 q-2.5,2.9 -5.3,5.8" stroke="#8c8c8c" stroke-width="1.93" opacity="0.9"/>
<path d="M150.6,126.2 q0.7,4.3 0.9,8.5" stroke="#626262" stroke-width="1.25" opacity="0.9"/>
<path d="M150.5,57.8 q-1.7,4.4 -1.9,8.8" stroke="#0c0c0c" stroke-width="2.32" opacity="0.9"/>
<path d="M167.3,53.2 q0.0,3.3 1.6,6.7" stroke="#707070" stroke-width="1.42" opacity="0.9"/>
<path d="M109.4,109.2 q-1.4,4.0 -2.5,8.1" stroke="#555555" stroke-width="2.13" opacity="0.9"/>
<path d="M155.3,88.0 q1.2,2.7 1.0,5.3" stroke="#8c8c8c" stroke-width="1.91" opacity="0.9"/>
<path d="M174.7,97.3 q-2.0,3.5 -2.5,7.0" stroke="#0c0c0c" stroke-width="1.38" opacity="0.9"/>
<path d="M108.3,124.6 q-1.3,2.8 -1.5,5.5" stroke="#555555" stroke-width="1.46" opacity="0.9"/>
<path d="M140.1,71.1 q2.3,3.7 3.8,7.5" stroke="#707070" stroke-width="2.13" opacity="0.9"/>
<path d="M166.2,130.6 q1.9,0.7 5.3,1.5" stroke="#707070" stroke-width="2.30" opacity="0.9"/>
<path d="M110.2,42.9 q1.4,4.9 3.5,9.7" stroke="#8c8c8c" stroke-width="1.30" opacity="0.9"/>
<path d="M157.6,56.7 q0.4,5.1 1.1,10.1" stroke="#0c0c0c" stroke-width="1.89" opacity="0.9"/>
<path d="M154.0,54.0 q0.2,4.9 -0.1,9.8" stroke="#0c0c0c" stroke-width="1.97" opacity="0.9"/>
<path d="M136.4,85.5 q-2.1,4.3 -4.6,8.6" stroke="#707070" stroke-width="1.54" opacity="0.9"/>
<path d="M152.3,140.1 q3.1,3.4 5.1,6.9" stroke="#0c0c0c" stroke-width="1.38" opacity="0.9"/>
<path d="M147.8,162.9 q1.6,3.0 2.2,6.1" stroke="#0c0c0c" stroke-width="1.65" opacity="0.9"/>
<path d="M123.9,94.1 q0.9,4.5 0.9,9.1" stroke="#0c0c0c" stroke-width="2.30" opacity="0.9"/>
<path d="M161.3,72.8 q0.1,2.9 -1.2,5.7" stroke="#8c8c8c" stroke-width="1.38" opacity="0.9"/>
<path d="M162.2,106.8 q1.3,4.5 3.5,9.0" stroke="#7e7e7e" stroke-width="2.16" opacity="0.9"/>
<path d="M159.0,157.1 q3.2,0.8 6.2,1.6" stroke="#626262" stroke-width="2.31" opacity="0.9"/>
<path d="M108.6,85.4 q0.7,4.0 2.3,7.9" stroke="#707070" stroke-width="2.13" opacity="0.9"/>
<path d="M147.4,152.5 q1.1,4.9 3.4,9.7" stroke="#626262" stroke-width="1.46" opacity="0.9"/>
<path d="M162.8,73.0 q0.8,4.2 0.4,8.5" stroke="#0c0c0c" stroke-width="2.14" opacity="0.9"/>
<path d="M124.7,155.9 q-1.8,3.5 -3.9,6.9" stroke="#555555" stroke-width="1.39" opacity="0.9"/>
<path d="M131.5,103.0 q-2.5,1.6 -4.0,3.2" stroke="#7e7e7e" stroke-width="1.90" opacity="0.9"/>
<path d="M170.9,71.7 q0.2,2.7 -1.1,5.5" stroke="#8c8c8c" stroke-width="2.18" opacity="0.9"/>
<path d="M125.3,40.0 q0.4,3.1 -0.3,6.2" stroke="#0c0c0c" stroke-width="1.87" opacity="0.9"/>
<path d="M139.2,159.1 q-0.8,5.2 -1.2,10.4" stroke="#0c0c0c" stroke-width="1.92" opacity="0.9"/>
<path d="M116.2,160.7 q-2.2,2.8 -3.5,5.5" stroke="#9a9a9a" stroke-width="1.81" opacity="0.9"/>
<path d="M165.8,83.6 q0.2,3.2 0.2,6.4" stroke="#707070" stroke-width="1.27" opacity="0.9"/>
<path d="M109.9,155.4 q-1.3,3.2 -1.5,6.4" stroke="#7e7e7e" stroke-width="1.27" opacity="0.9"/>
<path d="M159.3,158.1 q3.8,2.1 8.0,4.2" stroke="#555555" stroke-width="1.76" opacity="0.9"/>
<path d="M134.5,84.1 q-0.7,3.4 -2.7,6.8" stroke="#626262" stroke-width="2.30" opacity="0.9"/>
<path d="M139.8,154.5 q-1.7,4.7 -3.0,9.3" stroke="#0c0c0c" stroke-width="1.94" opacity="0.9"/>
<path d="M158.9,137.0 q4.2,4.1 7.0,8.2" stroke="#0c0c0c" stroke-width="1.29" opacity="0.9"/>
<path d="M129.9,65.6 q0.8,2.8 0.8,5.6" stroke="#0c0c0c" stroke-width="1.60" opacity="0.9"/>
<path d="M120.3,94.1 q0.5,5.1 1.6,10.2" stroke="#626262" stroke-width="1.39" opacity="0.9"/>
<path d="M165.1,78.8 q-0.2,3.0 -0.4,6.0" stroke="#707070" stroke-width="1.75" opacity="0.9"/>
<path d="M118.4,102.3 q-0.3,4.3 -1.4,8.7" stroke="#707070" stroke-width="1.34" opacity="0.9"/>
<path d="M174.0,91.6 q1.9,2.6 4.1,5.2" stroke="#0c0c0c" stroke-width="1.49" opacity="0.9"/>
<path d="M136.3,56.2 q-1.1,4.9 -1.6,9.9" stroke="#7e7e7e" stroke-width="2.17" opacity="0.9"/>
<path d="M117.5,35.3 q-0.6,5.0 0.2,10.0" stroke="#626262" stroke-width="1.63" opacity="0.9"/>
<path d="M135.8,71.3 q-0.4,3.0 -1.2,6.0" stroke="#0c0c0c" stroke-width="1.41" opacity="0.9"/>
<path d="M164.4,151.5 q4.0,2.7 7.7,5.4" stroke="#0c0c0c" stroke-width="2.00" opacity="0.9"/>
<path d="M121.1,75.4 q0.8,2.5 0.9,5.0" stroke="#8c8c8c" stroke-width="1.69" opacity="0.9"/>
<path d="M111.8,141.2 q-0.4,3.4 -1.6,6.8" stroke="#555555" stroke-width="1.69" opacity="0.9"/>
<path d="M117.1,122.2 q2.5,2.2 4.7,4.5" stroke="#0c0c0c" stroke-width="2.04" opacity="0.9"/>
<path d="M166.3,81.7 q2.1,5.0 3.5,10.0" stroke="#555555" stroke-width="1.34" opacity="0.9"/>
<path d="M163.5,148.4 q2.7,1.1 6.6,2.1" stroke="#555555" stroke-width="1.55" opacity="0.9"/>
<path d="M157.7,93.5 q0.1,2.6 -0.3,5.1" stroke="#0c0c0c" stroke-width="1.31" opacity="0.9"/>
<path d="M119.4,75.9 q1.0,4.1 1.3,8.2" stroke="#555555" stroke-width="1.32" opacity="0.9"/>
<path d="M121.3,37.3 q0.7,4.1 2.7,8.1" stroke="#555555" stroke-width="1.62" opacity="0.9"/>
<path d="M120.2,70.8 q0.1,3.8 1.3,7.7" stroke="#707070" stroke-width="1.33" opacity="0.9"/>
<path d="M168.1,105.9 q0.3,3.2 -0.4,6.4" stroke="#7e7e7e" stroke-width="1.40" opacity="0.9"/>
<path d="M171.8,85.9 q-0.9,3.4 -3.2,6.8" stroke="#8c8c8c" stroke-width="1.24" opacity="0.9"/>
<path d="M111.5,82.6 q-0.3,3.6 -1.8,7.2" stroke="#8c8c8c" stroke-width="2.17" opacity="0.9"/>
<path d="M163.4,146.0 q2.9,-0.4 5.3,-0.8" stroke="#626262" stroke-width="2.24" opacity="0.9"/>
<path d="M108.8,49.3 q0.5,3.1 0.5,6.1" stroke="#0c0c0c" stroke-width="1.44" opacity="0.9"/>
<path d="M123.3,90.1 q-0.4,3.5 -2.4,7.0" stroke="#0c0c0c" stroke-width="2.38" opacity="0.9"/>
<path d="M110.7,148.4 q-4.3,2.0 -7.8,4.0" stroke="#555555" stroke-width="1.95" opacity="0.9"/>
<path d="M143.4,91.8 q1.3,5.2 2.2,10.5" stroke="#0c0c0c" stroke-width="1.57" opacity="0.9"/>
<path d="M116.2,112.9 q1.2,5.2 2.5,10.4" stroke="#8c8c8c" stroke-width="2.32" opacity="0.9"/>
<path d="M142.8,151.0 q-0.5,5.2 0.2,10.5" stroke="#707070" stroke-width="1.49" opacity="0.9"/>
<path d="M145.1,145.0 q1.6,4.0 3.3,8.0" stroke="#0c0c0c" stroke-width="2.05" opacity="0.9"/>
<path d="M145.3,115.3 q0.3,3.8 1.4,7.7" stroke="#0c0c0c" stroke-width="1.49" opacity="0.9"/>
<path d="M142.8,85.2 q-1.4,4.1 -2.3,8.2" stroke="#626262" stroke-width="1.59" opacity="0.9"/>
<path d="M126.4,150.1 q0.0,3.1 -0.1,6.3" stroke="#0c0c0c" stroke-width="1.23" opacity="0.9"/>
<path d="M149.2,80.6 q2.4,3.8 4.8,7.5" stroke="#0c0c0c" stroke-width="2.12" opacity="0.9"/>
<path d="M175.3,123.8 q0.6,5.3 0.7,10.6" stroke="#9a9a9a" stroke-width="1.62" opacity="0.9"/>
<path d="M149.9,146.3 q2.5,4.4 4.7,8.8" stroke="#7e7e7e" stroke-width="1.52" opacity="0.9"/>
<path d="M151.0,127.2 q0.3,3.7 0.4,7.5" stroke="#0c0c0c" stroke-width="1.69" opacity="0.9"/>
<path d="M116.0,87.1 q-2.5,5.2 -3.7,10.3" stroke="#0c0c0c" stroke-width="1.95" opacity="0.9"/>
<path d="M165.9,125.7 q-1.5,3.0 -3.1,6.0" stroke="#0c0c0c" stroke-width="1.62" opacity="0.9"/>
<path d="M148.5,119.9 q0.1,2.5 0.1,5.0" stroke="#0c0c0c" stroke-width="1.56" opacity="0.9"/>
<path d="M162.6,92.1 q2.6,2.2 5.7,4.5" stroke="#0c0c0c" stroke-width="2.19" opacity="0.9"/>
<path d="M173.9,114.7 q0.8,3.0 2.3,6.0" stroke="#555555" stroke-width="1.23" opacity="0.9"/>
<path d="M168.9,74.3 q-2.8,3.1 -5.4,6.2" stroke="#0c0c0c" stroke-width="1.94" opacity="0.9"/>
<path d="M164.1,130.3 q3.4,2.2 6.2,4.4" stroke="#7e7e7e" stroke-width="2.34" opacity="0.9"/>
<path d="M143.7,48.0 q1.1,3.4 2.2,6.9" stroke="#626262" stroke-width="2.36" opacity="0.9"/>
<path d="M137.9,116.8 q-0.7,5.4 -2.4,10.7" stroke="#0c0c0c" stroke-width="1.84" opacity="0.9"/>
<path d="M119.6,76.7 q-0.6,5.4 -1.8,10.7" stroke="#0c0c0c" stroke-width="2.27" opacity="0.9"/>
<path d="M163.8,164.7 q4.7,2.2 9.3,4.5" stroke="#0c0c0c" stroke-width="1.81" opacity="0.9"/>
<path d="M120.8,58.9 q-0.2,4.4 -0.7,8.8" stroke="#707070" stroke-width="1.88" opacity="0.9"/>
<path d="M157.2,125.6 q-1.8,2.3 -2.3,4.5" stroke="#707070" stroke-width="1.68" opacity="0.9"/>
<path d="M109.0,38.9 q0.2,3.0 -0.0,6.1" stroke="#8c8c8c" stroke-width="1.52" opacity="0.9"/>
<path d="M144.1,165.6 q-0.1,4.2 1.1,8.4" stroke="#0c0c0c" stroke-width="2.11" opacity="0.9"/>
<path d="M114.8,57.3 q0.2,4.1 -0.7,8.1" stroke="#8c8c8c" stroke-width="1.72" opacity="0.9"/>
<path d="M152.2,124.7 q-0.4,4.2 -1.1,8.4" stroke="#0c0c0c" stroke-width="1.24" opacity="0.9"/>
<path d="M166.4,159.1 q1.8,1.8 3.9,3.7" stroke="#0c0c0c" stroke-width="1.46" opacity="0.9"/>
<path d="M160.0,40.8 q-1.6,2.5 -2.0,4.9" stroke="#0c0c0c" stroke-width="1.47" opacity="0.9"/>
<path d="M147.9,57.7 q-0.6,2.5 -1.1,4.9" stroke="#707070" stroke-width="2.35" opacity="0.9"/>
<path d="M172.6,66.8 q0.7,3.6 1.8,7.1" stroke="#626262" stroke-width="1.70" opacity="0.9"/>
<path d="M156.4,37.9 q-0.2,5.0 -1.6,10.1" stroke="#0c0c0c" stroke-width="1.21" opacity="0.9"/>
<path d="M134.9,82.5 q-1.0,3.5 -0.7,7.0" stroke="#707070" stroke-width="1.68" opacity="0.9"/>
<path d="M116.4,143.2 q-3.6,2.1 -5.7,4.3" stroke="#0c0c0c" stroke-width="1.48" opacity="0.9"/>
<path d="M153.2,79.7 q-0.5,3.0 0.2,5.9" stroke="#0c0c0c" stroke-width="2.20" opacity="0.9"/>
<path d="M138.1,144.6 q1.0,4.9 1.3,9.7" stroke="#0c0c0c" stroke-width="1.62" opacity="0.9"/>
<path d="M133.6,160.6 q-1.6,2.9 -2.1,5.9" stroke="#0c0c0c" stroke-width="1.74" opacity="0.9"/>
<path d="M156.0,69.2 q0.4,5.2 1.1,10.3" stroke="#707070" stroke-width="1.84" opacity="0.9"/>
<path d="M142.7,51.4 q0.1,4.7 0.6,9.5" stroke="#9a9a9a" stroke-width="2.13" opacity="0.9"/>
<path d="M152.7,109.4 q-0.1,3.4 0.8,6.8" stroke="#0c0c0c" stroke-width="1.30" opacity="0.9"/>
<path d="M165.9,77.1 q-1.6,4.3 -2.6,8.6" stroke="#0c0c0c" stroke-width="1.80" opacity="0.9"/>
<path d="M112.5,75.8 q-1.1,3.1 -1.5,6.2" stroke="#0c0c0c" stroke-width="2.06" opacity="0.9"/>
<path d="M135.4,154.1 q-2.8,4.4 -4.1,8.7" stroke="#0c0c0c" stroke-width="1.53" opacity="0.9"/>
<path d="M154.2,121.9 q1.3,3.3 2.8,6.5" stroke="#9a9a9a" stroke-width="2.04" opacity="0.9"/>
<path d="M176.0,87.5 q-1.5,5.1 -2.1,10.2" stroke="#0c0c0c" stroke-width="1.93" opacity="0.9"/>
<path d="M154.1,88.0 q-0.2,4.3 -1.2,8.6" stroke="#707070" stroke-width="1.39" opacity="0.9"/>
<path d="M145.6,117.5 q0.9,5.2 2.1,10.4" stroke="#8c8c8c" stroke-width="1.51" opacity="0.9"/>
<path d="M154.5,80.7 q-0.5,2.5 0.4,5.0" stroke="#9a9a9a" stroke-width="1.54" opacity="0.9"/>
<path d="M166.1,114.6 q-0.3,2.6 -0.0,5.3" stroke="#626262" stroke-width="2.13" opacity="0.9"/>
<path d="M170.1,89.7 q-1.0,4.7 -1.4,9.4" stroke="#8c8c8c" stroke-width="2.19" opacity="0.9"/>
<path d="M114.1,159.0 q-1.9,3.2 -3.8,6.5" stroke="#9a9a9a" stroke-width="1.95" opacity="0.9"/>
<path d="M154.0,62.0 q-1.0,4.3 -2.6,8.6" stroke="#626262" stroke-width="1.25" opacity="0.9"/>
<path d="M162.8,69.2 q1.3,3.8 3.4,7.5" stroke="#9a9a9a" stroke-width="1.48" opacity="0.9"/>
<path d="M173.5,57.0 q-1.3,3.3 -2.5,6.6" stroke="#0c0c0c" stroke-width="2.02" opacity="0.9"/>
<path d="M140.8,127.4 q-0.8,2.4 -1.2,4.9" stroke="#626262" stroke-width="2.32" opacity="0.9"/>
<path d="M128.4,150.9 q1.4,2.8 1.4,5.7" stroke="#8c8c8c" stroke-width="1.71" opacity="0.9"/>
<path d="M154.0,55.3 q-0.0,5.4 1.1,10.8" stroke="#7e7e7e" stroke-width="2.20" opacity="0.9"/>
<path d="M127.7,82.2 q-0.8,3.0 -1.4,6.1" stroke="#0c0c0c" stroke-width="2.04" opacity="0.9"/>
<path d="M115.7,77.5 q-1.0,3.9 -0.7,7.8" stroke="#0c0c0c" stroke-width="1.40" opacity="0.9"/>
<path d="M108.7,165.0 q-3.7,2.7 -7.8,5.4" stroke="#8c8c8c" stroke-width="1.52" opacity="0.9"/>
<path d="M173.1,99.0 q0.8,4.8 1.2,9.6" stroke="#0c0c0c" stroke-width="1.54" opacity="0.9"/>
<path d="M157.7,126.6 q-1.9,4.3 -2.2,8.6" stroke="#0c0c0c" stroke-width="2.10" opacity="0.9"/>
<path d="M134.9,54.0 q-0.8,3.4 -2.5,6.8" stroke="#9a9a9a" stroke-width="1.40" opacity="0.9"/>
<path d="M164.5,132.2 q2.4,2.6 4.7,5.1" stroke="#0c0c0c" stroke-width="1.64" opacity="0.9"/>
<path d="M133.1,143.9 q-1.4,2.8 -3.2,5.6" stroke="#0c0c0c" stroke-width="1.88" opacity="0.9"/>
<path d="M163.7,127.4 q-1.5,4.9 -3.4,9.9" stroke="#626262" stroke-width="2.39" opacity="0.9"/>
<path d="M150.6,53.6 q0.2,3.2 0.8,6.3" stroke="#0c0c0c" stroke-width="1.96" opacity="0.9"/>
<path d="M174.6,146.4 q3.0,3.0 5.0,6.1" stroke="#0c0c0c" stroke-width="1.93" opacity="0.9"/>
<path d="M142.8,53.8 q-0.9,2.5 -2.3,4.9" stroke="#555555" stroke-width="1.73" opacity="0.9"/>
<path d="M164.2,153.4 q2.6,1.5 5.2,2.9" stroke="#707070" stroke-width="1.88" opacity="0.9"/>
<path d="M144.9,102.7 q-0.4,3.6 -2.3,7.2" stroke="#9a9a9a" stroke-width="2.24" opacity="0.9"/>
<path d="M173.4,116.2 q-2.1,4.5 -4.0,9.0" stroke="#707070" stroke-width="1.88" opacity="0.9"/>
<path d="M133.1,121.0 q-1.2,2.9 -1.0,5.7" stroke="#8c8c8c" stroke-width="2.26" opacity="0.9"/>
<path d="M120.8,123.9 q-1.6,3.6 -2.8,7.1" stroke="#0c0c0c" stroke-width="1.90" opacity="0.9"/>
<path d="M144.0,109.0 q-0.2,3.6 -1.6,7.2" stroke="#0c0c0c" stroke-width="1.42" opacity="0.9"/>
<path d="M145.3,49.7 q-0.4,5.1 0.0,10.2" stroke="#707070" stroke-width="2.05" opacity="0.9"/>
<path d="M139.2,105.9 q-0.0,4.5 -1.2,9.1" stroke="#8c8c8c" stroke-width="1.88" opacity="0.9"/>
<path d="M154.2,139.8 q3.1,1.6 4.8,3.2" stroke="#555555" stroke-width="1.95" opacity="0.9"/>
<path d="M143.0,95.3 q2.5,3.3 6.3,6.6" stroke="#0c0c0c" stroke-width="1.77" opacity="0.9"/>
<path d="M133.4,116.1 q1.1,3.6 1.6,7.3" stroke="#0c0c0c" stroke-width="1.25" opacity="0.9"/>
<path d="M173.0,95.2 q-1.7,2.6 -2.4,5.2" stroke="#0c0c0c" stroke-width="2.39" opacity="0.9"/>
<path d="M115.8,130.4 q-0.7,3.4 -2.4,6.7" stroke="#9a9a9a" stroke-width="2.02" opacity="0.9"/>
<path d="M116.3,83.9 q-1.4,4.3 -3.9,8.6" stroke="#9a9a9a" stroke-width="1.79" opacity="0.9"/>
<path d="M132.0,81.6 q-0.3,3.5 0.4,6.9" stroke="#626262" stroke-width="1.51" opacity="0.9"/>
<path d="M138.4,144.8 q-0.4,4.2 0.4,8.5" stroke="#0c0c0c" stroke-width="1.23" opacity="0.9"/>
<path d="M162.4,59.3 q1.1,4.1 1.0,8.3" stroke="#0c0c0c" stroke-width="1.37" opacity="0.9"/>
<path d="M144.6,125.3 q-1.3,4.5 -4.2,8.9" stroke="#555555" stroke-width="1.23" opacity="0.9"/>
<path d="M141.1,98.4 q-0.3,2.6 -0.3,5.2" stroke="#9a9a9a" stroke-width="2.02" opacity="0.9"/>
<path d="M140.4,55.7 q0.7,5.0 1.0,10.0" stroke="#0c0c0c" stroke-width="2.25" opacity="0.9"/>
<path d="M113.2,78.1 q-1.2,3.0 -1.9,6.0" stroke="#0c0c0c" stroke-width="1.40" opacity="0.9"/>
<path d="M139.8,110.6 q1.0,3.6 1.8,7.1" stroke="#0c0c0c" stroke-width="1.21" opacity="0.9"/>
<path d="M130.7,37.7 q-0.7,3.9 -0.7,7.7" stroke="#0c0c0c" stroke-width="2.01" opacity="0.9"/>
<path d="M126.6,100.5 q-0.5,3.3 0.1,6.6" stroke="#8c8c8c" stroke-width="1.90" opacity="0.9"/>
<path d="M155.5,154.9 q3.7,3.4 7.9,6.8" stroke="#8c8c8c" stroke-width="1.96" opacity="0.9"/>
<path d="M127.1,139.2 q-1.7,4.7 -4.2,9.3" stroke="#0c0c0c" stroke-width="2.12" opacity="0.9"/>
<path d="M142.6,118.2 q0.9,3.5 1.2,7.0" stroke="#7e7e7e" stroke-width="1.60" opacity="0.9"/>
<path d="M153.7,150.8 q3.6,2.7 8.1,5.4" stroke="#707070" stroke-width="1.38" opacity="0.9"/>
<path d="M168.4,123.0 q1.2,3.4 3.0,6.8" stroke="#8c8c8c" stroke-width="1.28" opacity="0.9"/>
<path d="M129.0,130.2 q-1.8,4.0 -2.6,7.9" stroke="#707070" stroke-width="1.29" opacity="0.9"/>
<path d="M170.9,111.6 q1.3,3.3 1.4,6.7" stroke="#9a9a9a" stroke-width="1.71" opacity="0.9"/>
<path d="M112.6,98.5 q-2.1,5.0 -2.7,10.0" stroke="#0c0c0c" stroke-width="1.51" opacity="0.9"/>
<path d="M119.2,70.1 q0.3,4.6 -0.5,9.2" stroke="#0c0c0c" stroke-width="1.92" opacity="0.9"/>
<path d="M152.1,60.8 q-2.1,4.5 -2.7,9.0" stroke="#8c8c8c" stroke-width="1.26" opacity="0.9"/>
<path d="M163.5,110.4 q-0.4,4.5 -2.2,9.1" stroke="#555555" stroke-width="1.97" opacity="0.9"/>
<path d="M122.4,77.8 q0.4,4.7 -0.1,9.5" stroke="#7e7e7e" stroke-width="1.93" opacity="0.9"/>
<path d="M119.9,148.1 q-3.3,2.9 -7.9,5.7" stroke="#8c8c8c" stroke-width="1.68" opacity="0.9"/>
<path d="M167.4,38.4 q0.2,3.4 1.0,6.8" stroke="#9a9a9a" stroke-width="2.07" opacity="0.9"/>
<path d="M114.4,55.5 q0.4,2.9 1.3,5.7" stroke="#555555" stroke-width="1.63" opacity="0.9"/>
<path d="M131.4,124.1 q-2.8,4.5 -4.7,9.0" stroke="#626262" stroke-width="2.09" opacity="0.9"/>
<path d="M156.4,135.0 q4.2,1.9 8.8,3.9" stroke="#7e7e7e" stroke-width="1.87" opacity="0.9"/>
<path d="M144.0,70.9 q-1.1,2.9 -3.0,5.8" stroke="#555555" stroke-width="1.99" opacity="0.9"/>
<path d="M132.6,164.6 q-0.7,3.2 -0.0,6.4" stroke="#0c0c0c" stroke-width="1.36" opacity="0.9"/>
<path d="M142.1,107.7 q1.0,3.0 0.8,6.0" stroke="#707070" stroke-width="2.09" opacity="0.9"/>
<path d="M167.2,147.1 q4.1,2.5 8.2,5.1" stroke="#7e7e7e" stroke-width="2.38" opacity="0.9"/>
<path d="M151.3,80.1 q0.5,4.7 2.5,9.5" stroke="#555555" stroke-width="1.99" opacity="0.9"/>
<path d="M162.9,154.7 q3.8,2.1 8.1,4.1" stroke="#0c0c0c" stroke-width="2.29" opacity="0.9"/>
<path d="M152.7,147.7 q1.0,2.3 2.5,4.5" stroke="#0c0c0c" stroke-width="1.63" opacity="0.9"/>
<path d="M136.9,71.5 q-0.3,5.1 -0.6,10.3" stroke="#8c8c8c" stroke-width="2.15" opacity="0.9"/>
<path d="M171.5,135.8 q4.4,3.8 7.5,7.6" stroke="#0c0c0c" stroke-width="1.20" opacity="0.9"/>
<path d="M125.0,76.9 q-0.3,4.2 -1.7,8.5" stroke="#0c0c0c" stroke-width="2.14" opacity="0.9"/>
<path d="M158.0,41.1 q1.1,4.8 0.5,9.6" stroke="#7e7e7e" stroke-width="2.24" opacity="0.9"/>
<path d="M128.2,38.2 q-0.4,2.8 -0.2,5.7" stroke="#626262" stroke-width="1.80" opacity="0.9"/>
<path d="M159.1,95.8 q0.4,3.7 0.1,7.4" stroke="#9a9a9a" stroke-width="2.30" opacity="0.9"/>
<path d="M168.0,163.3 q1.3,2.3 2.2,4.7" stroke="#555555" stroke-width="1.36" opacity="0.9"/>
<path d="M147.1,126.5 q-1.9,3.9 -5.3,7.7" stroke="#0c0c0c" stroke-width="1.33" opacity="0.9"/>
<path d="M174.0,103.8 q-0.3,2.5 -0.9,4.9" stroke="#0c0c0c" stroke-width="1.85" opacity="0.9"/>
<path d="M145.1,165.1 q-1.0,3.8 -3.2,7.5" stroke="#0c0c0c" stroke-width="2.36" opacity="0.9"/>
<path d="M174.1,64.3 q0.9,2.2 3.2,4.4" stroke="#555555" stroke-width="1.52" opacity="0.9"/>
<path d="M110.9,101.6 q1.2,3.6 2.0,7.2" stroke="#0c0c0c" stroke-width="2.03" opacity="0.9"/>
<path d="M145.0,106.9 q0.3,4.5 0.9,9.1" stroke="#9a9a9a" stroke-width="2.06" opacity="0.9"/>
<path d="M129.6,89.9 q1.4,5.3 2.4,10.6" stroke="#626262" stroke-width="2.28" opacity="0.9"/>
<path d="M124.3,100.6 q-1.5,5.4 -2.1,10.7" stroke="#9a9a9a" stroke-width="1.65" opacity="0.9"/>
<path d="M121.5,50.2 q-1.0,5.0 -1.4,10.0" stroke="#0c0c0c" stroke-width="2.03" opacity="0.9"/>
<path d="M151.9,106.9 q2.3,2.8 4.1,5.5" stroke="#555555" stroke-width="1.77" opacity="0.9"/>
<path d="M140.0,79.8 q0.9,3.8 3.3,7.6" stroke="#7e7e7e" stroke-width="1.63" opacity="0.9"/>
<path d="M174.4,69.9 q-1.6,4.2 -3.3,8.3" stroke="#555555" stroke-width="1.95" opacity="0.9"/>
<path d="M123.2,115.2 q-0.8,3.2 -1.9,6.3" stroke="#8c8c8c" stroke-width="1.91" opacity="0.9"/>
<path d="M176.0,43.6 q0.3,4.7 1.8,9.4" stroke="#0c0c0c" stroke-width="1.45" opacity="0.9"/>
<path d="M132.9,123.3 q-0.4,2.9 0.6,5.9" stroke="#9a9a9a" stroke-width="2.24" opacity="0.9"/>
<path d="M133.9,144.0 q0.4,4.9 1.6,9.8" stroke="#0c0c0c" stroke-width="1.38" opacity="0.9"/>
<path d="M115.0,81.7 q2.4,4.6 3.2,9.3" stroke="#0c0c0c" stroke-width="1.67" opacity="0.9"/>
<path d="M155.3,93.9 q0.5,3.9 0.4,7.9" stroke="#8c8c8c" stroke-width="1.38" opacity="0.9"/>
<path d="M133.0,103.2 q0.1,3.2 1.2,6.3" stroke="#0c0c0c" stroke-width="1.22" opacity="0.9"/>
<path d="M146.8,42.6 q-1.0,3.0 -1.2,6.0" stroke="#707070" stroke-width="2.30" opacity="0.9"/>
<path d="M126.0,92.4 q0.2,4.0 1.1,8.1" stroke="#0c0c0c" stroke-width="2.35" opacity="0.9"/>
<path d="M161.1,155.6 q4.2,2.4 8.0,4.8" stroke="#7e7e7e" stroke-width="1.72" opacity="0.9"/>
<path d="M125.5,66.3 q0.5,5.0 -0.6,10.1" stroke="#0c0c0c" stroke-width="1.94" opacity="0.9"/>
<path d="M165.9,111.0 q-0.6,2.7 -0.9,5.3" stroke="#0c0c0c" stroke-width="1.73" opacity="0.9"/>
<path d="M136.2,157.6 q-2.4,3.7 -4.8,7.5" stroke="#555555" stroke-width="1.91" opacity="0.9"/>
<path d="M139.4,145.0 q2.6,3.0 4.4,6.1" stroke="#7e7e7e" stroke-width="1.36" opacity="0.9"/>
<path d="M108.6,65.4 q-0.6,3.1 -0.6,6.2" stroke="#9a9a9a" stroke-width="1.55" opacity="0.9"/>
<path d="M134.3,95.2 q-0.1,2.7 -1.2,5.4" stroke="#0c0c0c" stroke-width="1.80" opacity="0.9"/>
<path d="M122.7,94.5 q2.1,4.7 3.1,9.4" stroke="#0c0c0c" stroke-width="1.60" opacity="0.9"/>
<path d="M145.4,133.0 q-1.3,4.9 -1.9,9.9" stroke="#0c0c0c" stroke-width="1.95" opacity="0.9"/>
<path d="M120.9,163.7 q-0.9,2.8 -2.2,5.7" stroke="#0c0c0c" stroke-width="1.66" opacity="0.9"/>
<path d="M128.3,86.7 q1.0,5.1 0.9,10.3" stroke="#707070" stroke-width="1.57" opacity="0.9"/>
<path d="M162.5,147.2 q2.8,2.1 5.0,4.2" stroke="#707070" stroke-width="2.32" opacity="0.9"/>
<path d="M156.3,53.5 q0.7,5.2 1.9,10.4" stroke="#9a9a9a" stroke-width="1.26" opacity="0.9"/>
<path d="M144.2,88.6 q-0.7,4.0 -2.3,8.1" stroke="#0c0c0c" stroke-width="1.53" opacity="0.9"/>
<path d="M127.8,128.1 q0.9,4.7 2.7,9.4" stroke="#7e7e7e" stroke-width="1.44" opacity="0.9"/>
<path d="M120.2,147.4 q-1.9,1.2 -5.2,2.4" stroke="#7e7e7e" stroke-width="1.42" opacity="0.9"/>
<path d="M146.2,139.9 q-1.3,3.6 -3.6,7.1" stroke="#9a9a9a" stroke-width="2.10" opacity="0.9"/>
<path d="M144.3,55.8 q1.1,4.8 0.8,9.6" stroke="#626262" stroke-width="2.14" opacity="0.9"/>
<path d="M136.2,121.3 q1.7,3.1 2.3,6.1" stroke="#9a9a9a" stroke-width="1.71" opacity="0.9"/>
<path d="M170.8,52.5 q1.7,2.6 2.7,5.3" stroke="#707070" stroke-width="2.05" opacity="0.9"/>
<path d="M129.1,68.8 q-0.4,4.1 -1.4,8.2" stroke="#0c0c0c" stroke-width="2.33" opacity="0.9"/>
<path d="M123.7,162.6 q-2.9,2.1 -5.6,4.1" stroke="#9a9a9a" stroke-width="1.31" opacity="0.9"/>
<path d="M157.5,91.3 q-1.1,4.1 -3.7,8.3" stroke="#0c0c0c" stroke-width="2.31" opacity="0.9"/>
<path d="M171.9,103.9 q-1.2,3.1 -2.4,6.3" stroke="#0c0c0c" stroke-width="2.10" opacity="0.9"/>
<path d="M171.2,47.2 q-1.1,3.8 -2.1,7.6" stroke="#555555" stroke-width="1.44" opacity="0.9"/>
<path d="M160.2,135.2 q4.6,1.9 9.7,3.8" stroke="#555555" stroke-width="2.36" opacity="0.9"/>
<path d="M172.2,121.0 q-0.1,2.6 0.6,5.3" stroke="#0c0c0c" stroke-width="1.74" opacity="0.9"/>
<path d="M158.5,58.4 q-0.5,4.9 0.3,9.7" stroke="#555555" stroke-width="2.10" opacity="0.9"/>
<path d="M119.0,86.5 q-0.4,2.6 -0.6,5.2" stroke="#0c0c0c" stroke-width="1.90" opacity="0.9"/>
<path d="M155.4,89.4 q-1.4,4.6 -4.2,9.1" stroke="#707070" stroke-width="1.40" opacity="0.9"/>
<path d="M130.6,145.3 q-1.8,5.0 -2.3,10.0" stroke="#626262" stroke-width="1.51" opacity="0.9"/>
<path d="M124.2,55.1 q0.1,3.2 1.7,6.4" stroke="#0c0c0c" stroke-width="1.88" opacity="0.9"/>
<path d="M125.4,159.4 q0.6,3.3 0.5,6.7" stroke="#626262" stroke-width="2.29" opacity="0.9"/>
<path d="M144.4,66.4 q0.1,2.8 -0.4,5.6" stroke="#9a9a9a" stroke-width="1.88" opacity="0.9"/>
<path d="M123.6,133.3 q-2.3,2.2 -3.9,4.4" stroke="#0c0c0c" stroke-width="1.82" opacity="0.9"/>
<path d="M168.6,46.0 q0.1,4.2 -0.6,8.4" stroke="#0c0c0c" stroke-width="1.91" opacity="0.9"/>
<path d="M156.3,43.1 q2.4,2.5 4.2,5.0" stroke="#0c0c0c" stroke-width="1.94" opacity="0.9"/>
<path d="M163.4,79.8 q3.1,4.3 4.7,8.7" stroke="#626262" stroke-width="1.21" opacity="0.9"/>
<path d="M136.0,88.3 q0.4,2.8 -0.1,5.5" stroke="#626262" stroke-width="2.16" opacity="0.9"/>
<path d="M121.9,156.2 q-3.7,3.5 -5.9,7.0" stroke="#0c0c0c" stroke-width="2.26" opacity="0.9"/>
<path d="M143.7,78.2 q0.5,2.7 0.6,5.4" stroke="#555555" stroke-width="1.44" opacity="0.9"/>
<path d="M165.5,138.0 q2.9,0.9 5.3,1.8" stroke="#0c0c0c" stroke-width="2.36" opacity="0.9"/>
<path d="M158.7,52.7 q-2.9,4.1 -5.6,8.2" stroke="#9a9a9a" stroke-width="1.91" opacity="0.9"/>
<path d="M164.1,137.8 q5.5,1.8 9.5,3.7" stroke="#9a9a9a" stroke-width="1.34" opacity="0.9"/>
<path d="M161.5,68.0 q-3.4,3.7 -6.7,7.5" stroke="#0c0c0c" stroke-width="1.44" opacity="0.9"/>
<path d="M124.1,99.5 q1.4,5.1 1.9,10.3" stroke="#0c0c0c" stroke-width="2.14" opacity="0.9"/>
<path d="M154.4,158.4 q5.0,2.4 8.8,4.7" stroke="#707070" stroke-width="2.00" opacity="0.9"/>
<path d="M137.0,74.9 q-0.3,3.4 -0.5,6.8" stroke="#555555" stroke-width="2.25" opacity="0.9"/>
<path d="M135.9,74.2 q-0.4,2.9 0.7,5.8" stroke="#0c0c0c" stroke-width="1.76" opacity="0.9"/>
<path d="M130.8,165.0 q0.6,3.1 0.2,6.1" stroke="#7e7e7e" stroke-width="1.99" opacity="0.9"/>
<path d="M116.2,124.5 q-0.4,2.6 -0.4,5.2" stroke="#0c0c0c" stroke-width="2.35" opacity="0.9"/>
<path d="M123.2,151.6 q-3.4,2.5 -7.1,4.9" stroke="#8c8c8c" stroke-width="2.15" opacity="0.9"/>
<path d="M166.3,161.8 q1.5,3.4 2.8,6.8" stroke="#0c0c0c" stroke-width="1.50" opacity="0.9"/>
<path d="M152.7,131.5 q2.8,4.0 4.2,8.0" stroke="#9a9a9a" stroke-width="1.65" opacity="0.9"/>
<path d="M168.8,122.3 q-0.2,2.7 0.3,5.4" stroke="#7e7e7e" stroke-width="1.52" opacity="0.9"/>
<path d="M128.8,127.9 q-2.2,4.0 -4.4,8.0" stroke="#0c0c0c" stroke-width="1.99" opacity="0.9"/>
<path d="M155.0,37.4 q1.0,5.0 2.1,10.0" stroke="#555555" stroke-width="1.87" opacity="0.9"/>
<path d="M159.1,151.7 q4.8,2.3 8.1,4.7" stroke="#0c0c0c" stroke-width="1.36" opacity="0.9"/>
<path d="M168.6,53.9 q0.6,4.2 0.7,8.5" stroke="#0c0c0c" stroke-width="2.10" opacity="0.9"/>
<path d="M127.1,134.9 q-0.0,3.4 0.3,6.7" stroke="#7e7e7e" stroke-width="1.86" opacity="0.9"/>
<path d="M113.7,159.5 q-3.3,3.2 -6.1,6.4" stroke="#0c0c0c" stroke-width="2.28" opacity="0.9"/>
<path d="M164.7,99.9 q0.8,2.1 3.1,4.3" stroke="#0c0c0c" stroke-width="2.17" opacity="0.9"/>
<path d="M128.9,103.2 q0.4,4.5 1.2,9.0" stroke="#8c8c8c" stroke-width="1.56" opacity="0.9"/>
<path d="M173.8,161.0 q0.8,2.9 1.8,5.8" stroke="#0c0c0c" stroke-width="1.59" opacity="0.9"/>
<path d="M115.4,69.1 q2.7,3.1 4.0,6.2" stroke="#0c0c0c" stroke-width="1.44" opacity="0.9"/>
<path d="M138.6,144.7 q-2.5,3.9 -4.3,7.7" stroke="#707070" stroke-width="1.25" opacity="0.9"/>
<path d="M144.4,121.6 q0.3,5.0 1.0,10.0" stroke="#0c0c0c" stroke-width="2.06" opacity="0.9"/>
<path d="M163.1,146.5 q2.2,1.5 4.9,3.0" stroke="#9a9a9a" stroke-width="1.88" opacity="0.9"/>
<path d="M171.9,69.8 q0.4,3.2 -0.1,6.5" stroke="#0c0c0c" stroke-width="1.86" opacity="0.9"/>
<path d="M154.1,89.1 q-0.7,4.8 -1.9,9.7" stroke="#9a9a9a" stroke-width="1.96" opacity="0.9"/>
<path d="M160.7,86.7 q-0.9,5.2 -1.7,10.5" stroke="#707070" stroke-width="1.68" opacity="0.9"/>
<path d="M130.9,148.3 q-1.6,4.4 -2.8,8.9" stroke="#707070" stroke-width="1.36" opacity="0.9"/>
<path d="M112.5,89.1 q-1.6,3.7 -3.0,7.4" stroke="#9a9a9a" stroke-width="1.48" opacity="0.9"/>
<path d="M122.5,130.5 q-0.4,4.8 -1.9,9.5" stroke="#0c0c0c" stroke-width="1.47" opacity="0.9"/>
<path d="M124.2,51.4 q-2.9,2.4 -4.7,4.8" stroke="#7e7e7e" stroke-width="2.25" opacity="0.9"/>
<path d="M155.9,127.2 q-0.5,4.3 -1.4,8.6" stroke="#0c0c0c" stroke-width="1.28" opacity="0.9"/>
<path d="M164.0,70.8 q0.3,3.1 -0.1,6.3" stroke="#555555" stroke-width="1.63" opacity="0.9"/>
<path d="M112.9,144.9 q-3.9,1.4 -6.3,2.8" stroke="#0c0c0c" stroke-width="1.53" opacity="0.9"/>
<path d="M138.3,107.7 q-0.7,4.9 -0.1,9.8" stroke="#0c0c0c" stroke-width="2.19" opacity="0.9"/>
<path d="M123.3,117.5 q0.2,3.5 1.3,6.9" stroke="#0c0c0c" stroke-width="2.15" opacity="0.9"/>
<path d="M165.1,140.9 q1.7,3.7 3.6,7.4" stroke="#0c0c0c" stroke-width="1.81" opacity="0.9"/>
<path d="M112.3,117.5 q0.3,4.7 -0.9,9.3" stroke="#7e7e7e" stroke-width="1.67" opacity="0.9"/>
<path d="M135.8,122.3 q-2.1,5.0 -2.8,9.9" stroke="#9a9a9a" stroke-width="2.38" opacity="0.9"/>
<path d="M140.5,52.5 q-0.9,3.8 -0.7,7.7" stroke="#9a9a9a" stroke-width="1.94" opacity="0.9"/>
<path d="M149.9,49.7 q-0.5,3.0 -0.0,6.0" stroke="#555555" stroke-width="1.73" opacity="0.9"/>
<path d="M155.9,60.8 q0.1,3.3 0.8,6.5" stroke="#9a9a9a" stroke-width="2.21" opacity="0.9"/>
<path d="M161.5,38.0 q0.7,4.7 0.4,9.4" stroke="#0c0c0c" stroke-width="1.70" opacity="0.9"/>
<path d="M151.6,132.9 q3.7,0.8 8.1,1.7" stroke="#707070" stroke-width="2.39" opacity="0.9"/>
<path d="M111.0,57.9 q-0.1,3.5 1.1,7.1" stroke="#9a9a9a" stroke-width="1.75" opacity="0.9"/>
<path d="M115.3,55.2 q4.3,3.0 7.6,6.0" stroke="#707070" stroke-width="1.77" opacity="0.9"/>
<path d="M116.7,49.3 q-0.4,4.1 -1.4,8.3" stroke="#626262" stroke-width="1.62" opacity="0.9"/>
<path d="M171.8,60.3 q0.0,3.3 -1.0,6.6" stroke="#9a9a9a" stroke-width="1.66" opacity="0.9"/>
<path d="M165.2,52.5 q0.6,2.4 1.7,4.8" stroke="#0c0c0c" stroke-width="1.90" opacity="0.9"/>
<path d="M108.6,143.8 q-2.7,3.6 -6.6,7.1" stroke="#8c8c8c" stroke-width="2.30" opacity="0.9"/>
<path d="M131.0,108.3 q-0.5,3.9 -0.6,7.7" stroke="#0c0c0c" stroke-width="1.45" opacity="0.9"/>
<path d="M167.9,47.8 q3.2,4.1 6.2,8.2" stroke="#7e7e7e" stroke-width="1.75" opacity="0.9"/>
<path d="M151.3,127.6 q-1.8,3.5 -3.2,6.9" stroke="#0c0c0c" stroke-width="1.76" opacity="0.9"/>
<path d="M153.8,128.5 q3.0,1.0 6.1,2.1" stroke="#626262" stroke-width="1.34" opacity="0.9"/>
<path d="M134.0,126.7 q2.2,4.6 3.6,9.1" stroke="#555555" stroke-width="1.67" opacity="0.9"/>
<path d="M164.0,118.0 q-1.3,4.7 -1.2,9.4" stroke="#555555" stroke-width="1.25" opacity="0.9"/>
<path d="M124.4,156.9 q-1.8,2.9 -2.5,5.8" stroke="#7e7e7e" stroke-width="1.52" opacity="0.9"/>
<path d="M109.2,134.2 q-3.2,1.0 -5.2,2.1" stroke="#0c0c0c" stroke-width="2.17" opacity="0.9"/>
<path d="M142.8,48.9 q-0.4,4.8 0.8,9.7" stroke="#555555" stroke-width="1.29" opacity="0.9"/>
<path d="M152.1,46.2 q1.7,3.8 3.3,7.7" stroke="#9a9a9a" stroke-width="1.27" opacity="0.9"/>
<path d="M127.8,87.0 q0.9,2.4 1.7,4.7" stroke="#555555" stroke-width="1.42" opacity="0.9"/>
<path d="M164.9,62.3 q0.3,4.6 0.4,9.2" stroke="#8c8c8c" stroke-width="2.37" opacity="0.9"/>
<path d="M132.0,47.3 q1.7,4.2 4.1,8.5" stroke="#555555" stroke-width="1.31" opacity="0.9"/>
<path d="M129.0,73.7 q0.2,3.9 1.9,7.7" stroke="#0c0c0c" stroke-width="1.29" opacity="0.9"/>
<path d="M154.4,135.5 q3.8,-0.1 6.3,-0.3" stroke="#8c8c8c" stroke-width="1.98" opacity="0.9"/>
<path d="M157.8,139.3 q4.0,3.9 6.9,7.9" stroke="#0c0c0c" stroke-width="2.02" opacity="0.9"/>
<path d="M137.3,150.0 q0.6,2.8 2.4,5.6" stroke="#7e7e7e" stroke-width="1.51" opacity="0.9"/>
<path d="M161.6,145.9 q2.2,1.7 3.9,3.4" stroke="#0c0c0c" stroke-width="2.34" opacity="0.9"/>
<path d="M140.2,116.6 q-0.8,4.8 0.0,9.5" stroke="#555555" stroke-width="1.69" opacity="0.9"/>
<path d="M123.7,151.1 q-2.4,4.7 -4.9,9.3" stroke="#707070" stroke-width="2.15" opacity="0.9"/>
<path d="M115.1,143.1 q-1.7,3.0 -3.5,5.9" stroke="#7e7e7e" stroke-width="1.39" opacity="0.9"/>
<path d="M152.2,105.5 q1.8,5.2 2.2,10.4" stroke="#8c8c8c" stroke-width="2.03" opacity="0.9"/>
<path d="M114.1,62.8 q0.6,3.4 -0.3,6.7" stroke="#0c0c0c" stroke-width="2.06" opacity="0.9"/>
<path d="M120.0,92.4 q-0.0,4.6 0.3,9.1" stroke="#9a9a9a" stroke-width="1.54" opacity="0.9"/>
<path d="M131.2,160.8 q-0.6,2.7 -1.6,5.3" stroke="#9a9a9a" stroke-width="1.97" opacity="0.9"/>
<path d="M152.6,113.3 q0.8,4.4 2.9,8.7" stroke="#0c0c0c" stroke-width="1.28" opacity="0.9"/>
<path d="M109.0,82.4 q-0.1,2.8 -1.5,5.6" stroke="#9a9a9a" stroke-width="2.25" opacity="0.9"/>
<path d="M138.6,152.9 q-1.3,3.2 -1.5,6.4" stroke="#0c0c0c" stroke-width="2.04" opacity="0.9"/>
<path d="M175.3,150.0 q4.5,3.1 8.0,6.3" stroke="#0c0c0c" stroke-width="1.67" opacity="0.9"/>
<path d="M115.2,62.4 q0.2,3.5 1.5,6.9" stroke="#555555" stroke-width="2.29" opacity="0.9"/>
<path d="M152.8,111.9 q-2.2,4.2 -3.2,8.4" stroke="#0c0c0c" stroke-width="1.37" opacity="0.9"/>
<path d="M174.8,85.2 q1.4,4.4 1.7,8.7" stroke="#0c0c0c" stroke-width="1.22" opacity="0.9"/>
<path d="M116.8,161.2 q-2.9,2.7 -4.6,5.5" stroke="#707070" stroke-width="1.64" opacity="0.9"/>
<path d="M153.1,149.3 q2.9,3.9 6.9,7.9" stroke="#555555" stroke-width="1.47" opacity="0.9"/>
<path d="M122.9,85.3 q-2.3,3.3 -3.0,6.5" stroke="#7e7e7e" stroke-width="1.52" opacity="0.9"/>
<path d="M114.8,84.4 q0.6,3.6 0.5,7.2" stroke="#555555" stroke-width="1.75" opacity="0.9"/>
<path d="M114.4,50.4 q-1.4,3.7 -2.6,7.4" stroke="#0c0c0c" stroke-width="1.48" opacity="0.9"/>
<path d="M116.0,43.9 q2.3,2.8 4.6,5.5" stroke="#555555" stroke-width="1.81" opacity="0.9"/>
<path d="M122.7,115.1 q-0.0,5.4 -1.5,10.9" stroke="#7e7e7e" stroke-width="1.33" opacity="0.9"/>
<path d="M143.7,66.4 q0.3,3.0 -0.8,6.0" stroke="#0c0c0c" stroke-width="1.52" opacity="0.9"/>
<path d="M139.3,130.8 q0.1,2.7 0.8,5.4" stroke="#707070" stroke-width="1.32" opacity="0.9"/>
<path d="M161.7,43.9 q1.1,4.5 2.1,9.0" stroke="#9a9a9a" stroke-width="1.98" opacity="0.9"/>
<path d="M109.7,96.6 q0.1,4.7 -0.3,9.4" stroke="#626262" stroke-width="2.13" opacity="0.9"/>
<path d="M117.5,82.7 q-0.5,3.6 -1.5,7.2" stroke="#0c0c0c" stroke-width="2.23" opacity="0.9"/>
<path d="M152.3,126.7 q-0.0,2.5 0.9,5.0" stroke="#9a9a9a" stroke-width="1.30" opacity="0.9"/>
<path d="M110.4,92.5 q-0.2,2.9 -1.0,5.8" stroke="#555555" stroke-width="1.68" opacity="0.9"/>
<path d="M108.9,159.2 q-1.6,3.0 -2.3,6.0" stroke="#7e7e7e" stroke-width="2.01" opacity="0.9"/>
<path d="M169.6,60.2 q-0.6,3.9 -0.4,7.8" stroke="#0c0c0c" stroke-width="2.14" opacity="0.9"/>
<path d="M174.3,134.0 q1.1,2.0 3.3,4.0" stroke="#8c8c8c" stroke-width="1.65" opacity="0.9"/>
<path d="M164.3,35.0 q-0.3,4.3 0.1,8.6" stroke="#9a9a9a" stroke-width="1.66" opacity="0.9"/>
<path d="M146.2,70.9 q-1.5,3.5 -2.4,7.1" stroke="#8c8c8c" stroke-width="1.36" opacity="0.9"/>
<path d="M159.2,57.0 q-1.5,3.3 -3.5,6.7" stroke="#707070" stroke-width="2.27" opacity="0.9"/>
<path d="M166.5,160.4 q1.5,2.6 4.2,5.1" stroke="#0c0c0c" stroke-width="2.30" opacity="0.9"/>
<path d="M109.2,72.9 q0.4,3.3 0.7,6.7" stroke="#626262" stroke-width="1.70" opacity="0.9"/>
<path d="M165.7,140.7 q3.8,2.5 7.4,4.9" stroke="#0c0c0c" stroke-width="1.99" opacity="0.9"/>
<path d="M162.5,152.7 q4.7,3.5 8.2,7.0" stroke="#8c8c8c" stroke-width="1.66" opacity="0.9"/>
<path d="M173.0,119.3 q-0.6,3.6 -1.6,7.3" stroke="#9a9a9a" stroke-width="2.09" opacity="0.9"/>
<path d="M140.1,123.0 q0.6,4.9 0.6,9.8" stroke="#0c0c0c" stroke-width="1.77" opacity="0.9"/>
<path d="M156.2,119.8 q-0.7,2.7 -3.0,5.3" stroke="#0c0c0c" stroke-width="1.72" opacity="0.9"/>
<path d="M122.1,88.6 q1.1,5.3 1.5,10.7" stroke="#626262" stroke-width="1.64" opacity="0.9"/>
<path d="M133.8,99.8 q-2.1,3.3 -3.0,6.5" stroke="#555555" stroke-width="1.24" opacity="0.9"/>
<path d="M135.6,90.1 q-0.2,2.7 0.0,5.5" stroke="#707070" stroke-width="1.89" opacity="0.9"/>
<path d="M155.9,92.3 q-0.4,3.0 0.3,6.0" stroke="#626262" stroke-width="1.67" opacity="0.9"/>
<path d="M150.8,73.3 q0.1,4.2 -0.0,8.3" stroke="#0c0c0c" stroke-width="1.50" opacity="0.9"/>
<path d="M160.3,83.4 q0.8,5.0 1.1,10.0" stroke="#0c0c0c" stroke-width="1.75" opacity="0.9"/>
<path d="M160.1,41.0 q0.4,5.1 1.5,10.3" stroke="#7e7e7e" stroke-width="2.07" opacity="0.9"/>
<path d="M112.8,35.6 q0.4,3.0 0.1,6.0" stroke="#0c0c0c" stroke-width="1.52" opacity="0.9"/>
<path d="M175.1,37.5 q-0.2,2.8 0.1,5.7" stroke="#626262" stroke-width="1.38" opacity="0.9"/>
<path d="M143.5,76.9 q0.3,3.7 1.7,7.3" stroke="#0c0c0c" stroke-width="1.30" opacity="0.9"/>
<path d="M114.2,116.8 q0.2,4.6 -0.3,9.2" stroke="#0c0c0c" stroke-width="2.15" opacity="0.9"/>
<path d="M131.2,99.4 q-0.7,2.9 -2.1,5.8" stroke="#0c0c0c" stroke-width="1.38" opacity="0.9"/>
<path d="M134.2,128.9 q0.7,3.1 1.1,6.3" stroke="#7e7e7e" stroke-width="1.31" opacity="0.9"/>
<path d="M121.0,127.7 q-2.3,4.3 -4.9,8.5" stroke="#0c0c0c" stroke-width="2.00" opacity="0.9"/>
<path d="M117.4,60.2 q-1.5,4.0 -2.8,8.0" stroke="#0c0c0c" stroke-width="1.51" opacity="0.9"/>
<path d="M144.3,129.9 q-1.1,2.5 -1.4,5.0" stroke="#626262" stroke-width="1.82" opacity="0.9"/>
<path d="M156.8,94.5 q-1.8,2.9 -2.1,5.8" stroke="#707070" stroke-width="1.36" opacity="0.9"/>
<path d="M139.5,79.4 q-3.6,3.2 -6.6,6.4" stroke="#9a9a9a" stroke-width="2.15" opacity="0.9"/>
<path d="M129.5,129.5 q-0.3,2.7 0.5,5.3" stroke="#0c0c0c" stroke-width="1.82" opacity="0.9"/>
<path d="M171.4,149.9 q3.4,2.3 6.2,4.7" stroke="#8c8c8c" stroke-width="2.24" opacity="0.9"/>
<path d="M140.4,75.7 q-0.4,2.7 -0.8,5.4" stroke="#8c8c8c" stroke-width="1.66" opacity="0.9"/>
<path d="M125.2,122.6 q0.4,3.1 0.9,6.3" stroke="#9a9a9a" stroke-width="1.65" opacity="0.9"/>
<path d="M171.1,157.3 q3.4,3.3 5.7,6.6" stroke="#707070" stroke-width="1.36" opacity="0.9"/>
<path d="M172.2,108.0 q-1.2,2.6 -1.1,5.3" stroke="#555555" stroke-width="1.56" opacity="0.9"/>
<path d="M159.0,136.0 q2.1,2.6 5.6,5.2" stroke="#0c0c0c" stroke-width="2.36" opacity="0.9"/>
<path d="M127.6,135.6 q0.3,2.9 -0.5,5.8" stroke="#0c0c0c" stroke-width="1.84" opacity="0.9"/>
<path d="M119.5,57.8 q0.3,4.8 -0.7,9.6" stroke="#707070" stroke-width="1.63" opacity="0.9"/>
<path d="M139.1,107.3 q-1.0,2.2 -3.4,4.4" stroke="#7e7e7e" stroke-width="1.77" opacity="0.9"/>
<path d="M149.1,72.8 q1.4,3.8 1.9,7.5" stroke="#9a9a9a" stroke-width="2.14" opacity="0.9"/>
<path d="M170.3,99.3 q3.1,4.4 5.2,8.8" stroke="#0c0c0c" stroke-width="1.82" opacity="0.9"/>
<path d="M155.3,162.9 q3.9,1.7 8.0,3.5" stroke="#9a9a9a" stroke-width="1.43" opacity="0.9"/>
<path d="M163.9,148.1 q1.6,3.8 3.8,7.6" stroke="#555555" stroke-width="2.34" opacity="0.9"/>
<path d="M165.7,142.3 q2.4,1.3 6.1,2.6" stroke="#0c0c0c" stroke-width="1.65" opacity="0.9"/>
<path d="M123.4,154.1 q-0.9,3.5 -2.3,7.1" stroke="#626262" stroke-width="2.18" opacity="0.9"/>
<path d="M111.6,151.5 q-1.8,1.9 -4.6,3.8" stroke="#707070" stroke-width="1.66" opacity="0.9"/>
<path d="M117.1,105.6 q-1.2,3.4 -1.4,6.9" stroke="#707070" stroke-width="2.28" opacity="0.9"/>
<path d="M129.7,136.4 q-2.2,4.2 -5.6,8.5" stroke="#555555" stroke-width="2.15" opacity="0.9"/>
<path d="M174.6,158.9 q3.5,0.5 7.8,0.9" stroke="#9a9a9a" stroke-width="1.61" opacity="0.9"/>
<path d="M114.8,77.9 q-0.1,2.6 -0.6,5.1" stroke="#626262" stroke-width="1.64" opacity="0.9"/>
<path d="M141.9,41.9 q1.1,5.0 1.7,10.0" stroke="#7e7e7e" stroke-width="1.57" opacity="0.9"/>
<path d="M168.8,96.6 q0.8,5.1 2.1,10.2" stroke="#707070" stroke-width="2.09" opacity="0.9"/>
<path d="M170.2,113.6 q-0.2,5.5 -1.0,10.9" stroke="#555555" stroke-width="2.26" opacity="0.9"/>
<path d="M122.1,82.5 q0.5,3.6 0.5,7.2" stroke="#9a9a9a" stroke-width="2.24" opacity="0.9"/>
<path d="M146.6,95.5 q-0.1,4.2 -1.3,8.3" stroke="#626262" stroke-width="1.83" opacity="0.9"/>
<path d="M161.6,81.7 q0.5,3.2 -0.1,6.3" stroke="#555555" stroke-width="1.46" opacity="0.9"/>
<path d="M175.5,91.8 q0.4,3.6 1.3,7.2" stroke="#0c0c0c" stroke-width="1.56" opacity="0.9"/>
<path d="M157.8,59.5 q2.7,3.2 5.1,6.5" stroke="#9a9a9a" stroke-width="2.25" opacity="0.9"/>
<path d="M133.7,143.9 q-0.4,5.2 -0.3,10.4" stroke="#555555" stroke-width="2.24" opacity="0.9"/>
<path d="M170.8,62.2 q0.6,2.6 -0.2,5.1" stroke="#9a9a9a" stroke-width="2.28" opacity="0.9"/>
<path d="M142.7,157.2 q-0.8,4.0 -2.2,8.1" stroke="#7e7e7e" stroke-width="1.36" opacity="0.9"/>
<path d="M149.1,65.6 q-1.8,3.0 -2.1,6.0" stroke="#555555" stroke-width="1.31" opacity="0.9"/>
<path d="M131.1,128.9 q-0.6,4.7 -0.2,9.5" stroke="#626262" stroke-width="1.48" opacity="0.9"/>
<path d="M167.3,162.9 q3.6,3.5 6.1,7.1" stroke="#626262" stroke-width="1.53" opacity="0.9"/>
<path d="M170.9,41.9 q-0.5,5.2 -2.2,10.4" stroke="#555555" stroke-width="2.24" opacity="0.9"/>
<path d="M146.0,89.4 q-0.7,3.4 -0.7,6.9" stroke="#7e7e7e" stroke-width="2.12" opacity="0.9"/>
<path d="M121.5,56.1 q-0.5,3.7 -1.4,7.3" stroke="#707070" stroke-width="1.57" opacity="0.9"/>
<path d="M138.3,53.7 q-0.6,4.2 -1.5,8.4" stroke="#7e7e7e" stroke-width="2.12" opacity="0.9"/>
<path d="M140.2,71.3 q-1.2,4.0 -1.4,8.0" stroke="#8c8c8c" stroke-width="1.37" opacity="0.9"/>
</g></g>
<g stroke-linecap="round" fill="none" stroke="#2a2a2a">
<path d="M149.7,43.3 l0.5,0.1" stroke-width="1.12"/>
<path d="M150.2,45.7 l0.2,-1.1" stroke-width="1.35"/>
<path d="M150.8,48.2 l-0.2,-0.5" stroke-width="1.26"/>
<path d="M152.1,50.0 l0.8,-0.1" stroke-width="1.08"/>
<path d="M154.1,51.1 l1.3,-1.4" stroke-width="1.15"/>
<path d="M156.2,51.8 l0.6,-0.6" stroke-width="1.39"/>
<path d="M158.7,52.2 l0.4,-1.9" stroke-width="1.48"/>
<path d="M160.9,52.8 l1.1,-1.2" stroke-width="1.07"/>
<path d="M162.8,53.5 l1.2,-1.8" stroke-width="0.95"/>
<path d="M164.3,54.7 l1.2,-0.1" stroke-width="0.82"/>
<path d="M165.3,56.1 l0.7,-0.7" stroke-width="1.09"/>
<path d="M165.4,58.0 l1.1,-1.4" stroke-width="1.54"/>
<path d="M164.6,60.2 l1.1,-1.3" stroke-width="1.11"/>
<path d="M163.2,62.3 l1.5,-1.3" stroke-width="1.10"/>
<path d="M161.2,64.3 l0.6,-0.3" stroke-width="1.23"/>
<path d="M159.4,66.3 l0.5,-0.2" stroke-width="0.93"/>
<path d="M157.7,68.3 l0.3,-1.6" stroke-width="0.85"/>
<path d="M156.5,70.5 l0.6,-1.7" stroke-width="0.85"/>
<path d="M155.8,73.0 l1.1,-0.3" stroke-width="1.53"/>
<path d="M155.1,75.8 l1.5,-1.0" stroke-width="0.87"/>
<path d="M154.4,78.7 l1.3,-1.8" stroke-width="1.40"/>
<path d="M154.1,81.9 l1.3,-1.7" stroke-width="1.50"/>
<path d="M154.1,85.3 l1.7,-0.4" stroke-width="0.83"/>
<path d="M154.1,88.6 l0.3,-0.6" stroke-width="1.37"/>
<path d="M154.3,91.9 l1.2,-0.7" stroke-width="0.94"/>
<path d="M154.3,96.6 l2.2,0.7" stroke-width="1.09"/>
<path d="M154.3,102.5 l2.4,0.9" stroke-width="1.00"/>
<path d="M154.5,108.5 l2.0,1.9" stroke-width="1.36"/>
<path d="M154.8,114.7 l0.4,1.1" stroke-width="1.08"/>
<path d="M155.4,120.6 l0.7,2.3" stroke-width="1.34"/>
<path d="M156.3,126.0 l0.5,1.8" stroke-width="1.26"/>
<path d="M157.8,130.1 l1.5,2.2" stroke-width="1.07"/>
<path d="M160.1,132.9 l1.6,2.4" stroke-width="1.53"/>
<path d="M162.5,135.3 l0.5,1.8" stroke-width="1.11"/>
<path d="M165.3,137.4 l0.4,2.7" stroke-width="1.43"/>
<path d="M167.9,139.1 l0.3,2.4" stroke-width="1.13"/>
<path d="M170.3,140.2 l1.4,2.5" stroke-width="1.13"/>
<path d="M172.0,141.8 l2.3,3.1" stroke-width="1.29"/>
<path d="M172.9,143.8 l0.7,1.5" stroke-width="1.52"/>
<path d="M172.6,145.3 l1.8,2.8" stroke-width="1.59"/>
<path d="M171.3,146.4 l0.9,2.6" stroke-width="1.01"/>
<path d="M168.8,147.5 l0.5,2.7" stroke-width="1.19"/>
<path d="M165.2,148.6 l1.4,1.4" stroke-width="1.54"/>
<path d="M161.6,150.0 l0.4,2.9" stroke-width="1.26"/>
<path d="M158.2,151.7 l1.0,2.8" stroke-width="1.55"/>
<path d="M155.1,153.7 l0.8,1.2" stroke-width="1.02"/>
<path d="M152.2,155.9 l0.9,1.7" stroke-width="1.38"/>
<path d="M149.5,158.3 l0.6,2.2" stroke-width="0.88"/>
<path d="M147.1,160.8 l0.6,2.0" stroke-width="1.32"/>
<path d="M144.6,162.6 l-0.1,2.5" stroke-width="1.55"/>
<path d="M142.2,163.7 l0.0,3.3" stroke-width="1.45"/>
<path d="M140.1,163.9 l-0.0,3.2" stroke-width="1.12"/>
<path d="M138.4,163.0 l-0.1,2.7" stroke-width="1.40"/>
<path d="M136.0,161.1 l0.2,1.3" stroke-width="1.59"/>
<path d="M132.9,158.4 l0.2,2.0" stroke-width="1.31"/>
<path d="M130.0,155.6 l-0.7,2.6" stroke-width="0.83"/>
<path d="M127.3,152.9 l-1.0,2.7" stroke-width="1.51"/>
<path d="M124.3,150.3 l-0.4,1.6" stroke-width="1.37"/>
<path d="M121.1,147.8 l-1.0,3.1" stroke-width="0.95"/>
<path d="M118.4,145.1 l-0.0,1.3" stroke-width="0.95"/>
<path d="M116.0,142.2 l-1.1,1.8" stroke-width="1.54"/>
<path d="M114.2,138.7 l-0.5,1.8" stroke-width="1.53"/>
<path d="M113.0,134.8 l-0.2,1.8" stroke-width="1.58"/>
<path d="M112.6,130.4 l-1.3,2.3" stroke-width="1.48"/>
<path d="M112.8,125.5 l-1.9,2.3" stroke-width="1.44"/>
<path d="M113.2,120.8 l-1.2,1.6" stroke-width="1.17"/>
<path d="M113.8,116.4 l-1.2,2.4" stroke-width="0.93"/>
<path d="M114.6,111.8 l-1.8,1.4" stroke-width="0.93"/>
<path d="M115.5,107.1 l-1.2,0.9" stroke-width="1.01"/>
<path d="M116.6,101.9 l-1.5,1.0" stroke-width="1.27"/>
<path d="M117.8,96.3 l-0.6,0.2" stroke-width="1.57"/>
<path d="M118.8,90.9 l-2.9,-0.4" stroke-width="1.57"/>
<path d="M119.7,85.6 l-1.2,-0.6" stroke-width="0.82"/>
<path d="M120.1,80.8 l-1.5,-0.6" stroke-width="1.30"/>
<path d="M120.1,76.4 l-0.5,-0.7" stroke-width="1.09"/>
<path d="M119.6,72.7 l-1.2,-1.4" stroke-width="1.49"/>
<path d="M118.8,69.7 l-1.4,-1.0" stroke-width="1.04"/>
<path d="M117.6,67.0 l-1.8,-1.0" stroke-width="0.85"/>
<path d="M116.1,64.5 l-0.5,-0.6" stroke-width="1.21"/>
<path d="M114.9,62.1 l-0.1,-0.2" stroke-width="1.35"/>
<path d="M114.0,59.9 l-0.5,-1.3" stroke-width="1.37"/>
<path d="M113.8,57.8 l-1.2,-0.3" stroke-width="1.58"/>
<path d="M114.1,55.8 l-0.6,-1.3" stroke-width="1.13"/>
<path d="M115.3,54.2 l-1.0,-1.2" stroke-width="0.81"/>
<path d="M117.2,53.0 l-1.1,-0.2" stroke-width="0.88"/>
<path d="M119.3,52.1 l-1.3,-1.2" stroke-width="1.21"/>
<path d="M121.8,51.5 l0.2,-0.9" stroke-width="1.36"/>
<path d="M124.0,50.7 l0.2,0.1" stroke-width="0.89"/>
<path d="M126.1,49.6 l-0.9,-1.9" stroke-width="1.09"/>
<path d="M127.5,47.9 l0.3,-0.8" stroke-width="1.59"/>
<path d="M128.1,45.6 l-0.1,-1.8" stroke-width="1.38"/>
<path d="M128.7,43.4 l-0.6,-0.8" stroke-width="1.00"/>
</g>
<path d="M139.3,26.6 C141.5,27.2 143.5,30.5 144.4,34.5 C144.8,37.5 143.8,40 141.5,41 L137,41 C134.8,40 133.8,37.5 134.2,34.5 C135.1,30.5 137.1,27.2 139.3,26.6 Z" fill="#c98080" stroke="#8c4c4c" stroke-width="0.6"/>
<path d="M139.3,28.5 C140.8,29.5 142,32 142.2,34.5 L136.4,34.5 C136.6,32 137.8,29.5 139.3,28.5 Z" fill="#e3a9a7"/>
<ellipse cx="139.3" cy="35.3" rx="1.9" ry="1.6" fill="#3a1e1e"/>
<ellipse cx="139.3" cy="34.2" rx="0.6" ry="0.7" fill="#f4f0f0"/>
<path d="M139.3,47.2 C142.2,51 144.4,54.5 144.3,56.2 C143.7,59 141.5,62.5 139.3,65 C137.1,62.5 134.9,59 134.3,56.2 C134.2,54.5 136.4,51 139.3,47.2 Z" fill="#d99a9a" opacity="0.9" filter="url(#bl05)"/>
<path d="M139.3,48.8 C141.4,52 142.7,54.8 142.6,56.2 C142.1,58.6 140.8,61.2 139.3,63.4 C137.8,61.2 136.5,58.6 136,56.2 C135.9,54.8 137.2,52 139.3,48.8 Z" fill="#c8525a"/>
<path d="M139.3,52 C140.4,54 140.9,55.5 140.8,56.5 C140.4,58 139.9,59 139.3,60 C138.7,59 138.2,58 137.8,56.5 C137.7,55.5 138.2,54 139.3,52 Z" fill="#d4646c" opacity="0.8"/>
<path d="M79.2,53.2 H128.4 V50.75 L135.3,55.25 L128.4,59.75 V57.3 H79.2 Z" fill="#c4def5" stroke="#101418" stroke-width="1.1" stroke-linejoin="miter"/>
<path d="M80.9,137.8 H99.3 V133.9 L106.2,139.9 L99.3,145.9 V142.0 H80.9 Z" fill="#c4def5" stroke="#101418" stroke-width="1.1" stroke-linejoin="miter"/>
<g stroke="#000" stroke-width="1.1" fill="none">
<path d="M31.5,224.1 V321.5"/>
<path d="M30.95,317.5 H170.6"/>
<path d="M28.0,240.5 H31.5"/>
<path d="M28.0,271.5 H31.5"/>
<path d="M28.0,302.5 H31.5"/>
<path d="M31.5,317.5 V321.5"/>
<path d="M59.22,317.5 V321.5"/>
<path d="M86.94,317.5 V321.5"/>
<path d="M114.66,317.5 V321.5"/>
<path d="M142.38,317.5 V321.5"/>
<path d="M170.1,317.5 V321.5"/>
</g>
<text x="0" y="0" transform="translate(27.2,243.7) scale(1,1.1)" font-size="8.8" font-weight="bold" text-anchor="end" fill="#000" stroke="#000" stroke-width="0.26" >0</text>
<text x="0" y="0" transform="translate(27.2,274.7) scale(1,1.1)" font-size="8.8" font-weight="bold" text-anchor="end" fill="#000" stroke="#000" stroke-width="0.26" >-10</text>
<text x="0" y="0" transform="translate(27.2,305.7) scale(1,1.1)" font-size="8.8" font-weight="bold" text-anchor="end" fill="#000" stroke="#000" stroke-width="0.26" >-20</text>
<text x="0" y="0" transform="translate(31.5,331.2) scale(1,1.1)" font-size="8.8" font-weight="bold" text-anchor="middle" fill="#000" stroke="#000" stroke-width="0.26" >0.00</text>
<text x="0" y="0" transform="translate(59.2,331.2) scale(1,1.1)" font-size="8.8" font-weight="bold" text-anchor="middle" fill="#000" stroke="#000" stroke-width="0.26" >0.02</text>
<text x="0" y="0" transform="translate(86.9,331.2) scale(1,1.1)" font-size="8.8" font-weight="bold" text-anchor="middle" fill="#000" stroke="#000" stroke-width="0.26" >0.04</text>
<text x="0" y="0" transform="translate(114.7,331.2) scale(1,1.1)" font-size="8.8" font-weight="bold" text-anchor="middle" fill="#000" stroke="#000" stroke-width="0.26" >0.06</text>
<text x="0" y="0" transform="translate(142.4,331.2) scale(1,1.1)" font-size="8.8" font-weight="bold" text-anchor="middle" fill="#000" stroke="#000" stroke-width="0.26" >0.08</text>
<text x="0" y="0" transform="translate(170.1,331.2) scale(1,1.1)" font-size="8.8" font-weight="bold" text-anchor="middle" fill="#000" stroke="#000" stroke-width="0.26" >0.10</text>
<path d="M33,240.5 H168" stroke="#000" stroke-width="1.0" stroke-dasharray="1.25,1.62" fill="none"/>
<text x="0" y="0" transform="translate(95.6,213.7) scale(1,1.0)" font-size="9.5" font-weight="bold" text-anchor="middle" fill="#000" stroke="#000" stroke-width="0.26" >Electrode layouts</text>
<text x="0" y="0" transform="translate(94.8,226.3) scale(1,1.0)" font-size="8.8" text-anchor="middle" fill="#000" stroke="#000" stroke-width="0.3" >5 Hz, PD: 266 µs</text>
<text x="0" y="0" transform="translate(92.2,345.0) scale(1,1.0)" font-size="10.2" text-anchor="middle" fill="#000" stroke="#000" stroke-width="0.3" >µC/phase</text>
<text x="0" y="0" transform="translate(10.0,268.5) rotate(-90) scale(1,1.0)" font-size="10.6" text-anchor="middle" fill="#000" stroke="#000" stroke-width="0.3" >HR reduction (%)</text>
<path d="M37.40,239.50 C39.40,239.93 45.63,241.03 49.40,242.10 C53.17,243.17 57.05,244.80 60.00,245.90 C62.95,247.00 64.10,247.25 67.10,248.70 C70.10,250.15 74.05,252.38 78.00,254.60 C81.95,256.82 86.30,259.07 90.80,262.00 C95.30,264.93 99.98,268.78 105.00,272.20 C110.02,275.62 115.62,279.27 120.90,282.50 C126.18,285.73 131.87,288.50 136.70,291.60 C141.53,294.70 147.70,299.52 149.90,301.10" stroke="#f5841f" stroke-width="1.35" fill="none"/>
<path d="M37.40,238.20 C39.40,238.28 45.97,238.47 49.40,238.70 C52.83,238.93 55.05,239.17 58.00,239.60 C60.95,240.03 63.77,239.90 67.10,241.30 C70.43,242.70 74.05,245.05 78.00,248.00 C81.95,250.95 87.13,256.02 90.80,259.00 C94.47,261.98 97.63,264.03 100.00,265.90 C102.37,267.77 101.52,267.75 105.00,270.20 C108.48,272.65 115.62,277.87 120.90,280.60 C126.18,283.33 131.87,285.03 136.70,286.60 C141.53,288.17 147.70,289.43 149.90,290.00" stroke="#4f9cf0" stroke-width="1.35" fill="none"/>
<path d="M37.40,244.20 C39.40,244.22 45.63,244.22 49.40,244.30 C53.17,244.38 57.05,244.48 60.00,244.70 C62.95,244.92 64.10,244.62 67.10,245.60 C70.10,246.58 74.05,248.60 78.00,250.60 C81.95,252.60 87.13,255.97 90.80,257.60 C94.47,259.23 95.97,259.72 100.00,260.40 C104.03,261.08 110.00,261.42 115.00,261.70 C120.00,261.98 124.18,262.02 130.00,262.10 C135.82,262.18 146.58,262.18 149.90,262.20" stroke="#000" stroke-width="1.35" fill="none"/>
<path d="M67.1,245.2 V257.4 M64.8,245.2 H69.39999999999999 M64.8,257.4 H69.39999999999999" stroke="#f5841f" stroke-width="1.1" fill="none"/>
<path d="M90.8,250.9 V273.2 M88.5,250.9 H93.1 M88.5,273.2 H93.1" stroke="#f5841f" stroke-width="1.1" fill="none"/>
<path d="M37.4,236.86 L39.6,241.26 L35.199999999999996,241.26 Z" fill="#f5841f"/>
<path d="M49.4,239.66000000000003 L51.6,244.06 L47.199999999999996,244.06 Z" fill="#f5841f"/>
<path d="M67.1,248.66000000000003 L69.3,253.06 L64.89999999999999,253.06 Z" fill="#f5841f"/>
<path d="M90.8,259.06 L93.0,263.46 L88.6,263.46 Z" fill="#f5841f"/>
<path d="M149.9,298.26 L152.1,302.65999999999997 L147.70000000000002,302.65999999999997 Z" fill="#f5841f"/>
<path d="M149.9,280.5 V298.9 M147.6,280.5 H152.20000000000002 M147.6,298.9 H152.20000000000002" stroke="#4f9cf0" stroke-width="1.1" fill="none"/>
<rect x="35.4" y="236.2" width="4.0" height="4.0" fill="#4f9cf0"/>
<rect x="47.4" y="236.7" width="4.0" height="4.0" fill="#4f9cf0"/>
<rect x="65.1" y="239.3" width="4.0" height="4.0" fill="#4f9cf0"/>
<rect x="88.8" y="257.7" width="4.0" height="4.0" fill="#4f9cf0"/>
<rect x="147.9" y="287.8" width="4.0" height="4.0" fill="#4f9cf0"/>
<path d="M37.4,241.3 V247.2 M35.1,241.3 H39.699999999999996 M35.1,247.2 H39.699999999999996" stroke="#000" stroke-width="1.1" fill="none"/>
<path d="M49.4,241.3 V247.2 M47.1,241.3 H51.699999999999996 M47.1,247.2 H51.699999999999996" stroke="#000" stroke-width="1.1" fill="none"/>
<path d="M67.1,243.0 V246.9 M64.8,243.0 H69.39999999999999 M64.8,246.9 H69.39999999999999" stroke="#000" stroke-width="1.1" fill="none"/>
<path d="M90.8,253.2 V262.2 M88.5,253.2 H93.1 M88.5,262.2 H93.1" stroke="#000" stroke-width="1.1" fill="none"/>
<path d="M149.9,256.3 V267.9 M147.6,256.3 H152.20000000000002 M147.6,267.9 H152.20000000000002" stroke="#000" stroke-width="1.1" fill="none"/>
<circle cx="37.4" cy="244.3" r="2.1" fill="#000"/>
<circle cx="49.4" cy="244.3" r="2.1" fill="#000"/>
<circle cx="67.1" cy="245.2" r="2.1" fill="#000"/>
<circle cx="90.8" cy="257.7" r="2.1" fill="#000"/>
<circle cx="149.9" cy="262.1" r="2.1" fill="#000"/>
<path d="M90.8,241.6 L93.1,243.9 L90.8,246.20000000000002 L88.5,243.9 Z" fill="#1a9bb0"/>
<path d="M35.4,279.1 H46.2" stroke="#000" stroke-width="1.4"/>
<circle cx="40.9" cy="279.1" r="2.0" fill="#000"/>
<text x="0" y="0" transform="translate(51.4,282.1) scale(1,1.0)" font-size="8.8" text-anchor="start" fill="#000" stroke="#000" stroke-width="0.3" >Tripolar</text>
<path d="M35.4,289.5 H46.2" stroke="#4f9cf0" stroke-width="1.4"/>
<rect x="39.0" y="287.6" width="3.8" height="3.8" fill="#4f9cf0"/>
<text x="0" y="0" transform="translate(51.4,292.5) scale(1,1.0)" font-size="8.8" text-anchor="start" fill="#000" stroke="#000" stroke-width="0.3" >Longitudinal</text>
<path d="M35.4,299.90000000000003 H46.2" stroke="#f5841f" stroke-width="1.4"/>
<path d="M40.9,297.38000000000005 L43.0,301.58000000000004 L38.8,301.58000000000004 Z" fill="#f5841f"/>
<text x="0" y="0" transform="translate(51.4,302.9) scale(1,1.0)" font-size="8.8" text-anchor="start" fill="#000" stroke="#000" stroke-width="0.3" >Spaced Longitudinal</text>
<path d="M40.9,308.1 L43.1,310.3 L40.9,312.5 L38.699999999999996,310.3 Z" fill="#1a9bb0"/>
<text x="0" y="0" transform="translate(51.4,313.3) scale(1,1.0)" font-size="8.8" text-anchor="start" fill="#000" stroke="#000" stroke-width="0.3" >Transverse</text>
<g stroke="#000" stroke-width="1.1" fill="none">
<path d="M231.5,224.2 V321.5"/>
<path d="M230.95,317.5 H371.0"/>
<path d="M228.0,237.5 H231.5"/>
<path d="M228.0,269.3 H231.5"/>
<path d="M228.0,301.1 H231.5"/>
<path d="M231.5,317.5 V321.5"/>
<path d="M259.34,317.5 V321.5"/>
<path d="M287.18,317.5 V321.5"/>
<path d="M315.02,317.5 V321.5"/>
<path d="M342.86,317.5 V321.5"/>
<path d="M370.7,317.5 V321.5"/>
</g>
<text x="0" y="0" transform="translate(227.2,240.7) scale(1,1.1)" font-size="8.8" font-weight="bold" text-anchor="end" fill="#000" stroke="#000" stroke-width="0.26" >0</text>
<text x="0" y="0" transform="translate(227.2,272.5) scale(1,1.1)" font-size="8.8" font-weight="bold" text-anchor="end" fill="#000" stroke="#000" stroke-width="0.26" >-10</text>
<text x="0" y="0" transform="translate(227.2,304.3) scale(1,1.1)" font-size="8.8" font-weight="bold" text-anchor="end" fill="#000" stroke="#000" stroke-width="0.26" >-20</text>
<text x="0" y="0" transform="translate(231.5,331.0) scale(1,1.1)" font-size="8.8" font-weight="bold" text-anchor="middle" fill="#000" stroke="#000" stroke-width="0.26" >0.00</text>
<text x="0" y="0" transform="translate(259.3,331.0) scale(1,1.1)" font-size="8.8" font-weight="bold" text-anchor="middle" fill="#000" stroke="#000" stroke-width="0.26" >0.02</text>
<text x="0" y="0" transform="translate(287.2,331.0) scale(1,1.1)" font-size="8.8" font-weight="bold" text-anchor="middle" fill="#000" stroke="#000" stroke-width="0.26" >0.04</text>
<text x="0" y="0" transform="translate(315.0,331.0) scale(1,1.1)" font-size="8.8" font-weight="bold" text-anchor="middle" fill="#000" stroke="#000" stroke-width="0.26" >0.06</text>
<text x="0" y="0" transform="translate(342.9,331.0) scale(1,1.1)" font-size="8.8" font-weight="bold" text-anchor="middle" fill="#000" stroke="#000" stroke-width="0.26" >0.08</text>
<text x="0" y="0" transform="translate(370.7,331.0) scale(1,1.1)" font-size="8.8" font-weight="bold" text-anchor="middle" fill="#000" stroke="#000" stroke-width="0.26" >0.10</text>
<path d="M233,237.5 H369" stroke="#000" stroke-width="1.0" stroke-dasharray="1.25,1.62" fill="none"/>
<text x="0" y="0" transform="translate(209.2,268.5) rotate(-90) scale(1,1.0)" font-size="10.6" text-anchor="middle" fill="#000" stroke="#000" stroke-width="0.3" >HR reduction (%)</text>
<text x="0" y="0" transform="translate(299.5,345.0) scale(1,1.0)" font-size="10.2" text-anchor="middle" fill="#000" stroke="#000" stroke-width="0.3" >µC/phase</text>
<text x="0" y="0" transform="translate(227.6,213.8) scale(1,1.0)" font-size="9.5" font-weight="bold" text-anchor="start" fill="#000" stroke="#000" stroke-width="0.26" >Longitudinal: Stimulation intensity</text>
<text x="0" y="0" transform="translate(263.7,224.7) scale(1,1.0)" font-size="8.8" text-anchor="start" fill="#000" stroke="#000" stroke-width="0.3" >5 Hz, PD: 266 µs</text>
<path d="M237.60,237.50 C239.58,237.48 244.58,237.45 249.50,237.40 C254.42,237.35 260.23,237.13 267.10,237.20 C273.97,237.27 281.88,237.25 290.70,237.80 C299.52,238.35 310.08,239.58 320.00,240.50 C329.92,241.42 345.17,242.83 350.20,243.30" stroke="#000" stroke-width="1.35" fill="none"/>
<path d="M237.60,235.60 C239.57,235.70 246.00,235.90 249.40,236.20 C252.80,236.50 255.05,236.78 258.00,237.40 C260.95,238.02 263.85,238.78 267.10,239.90 C270.35,241.02 274.03,242.10 277.50,244.10 C280.97,246.10 284.98,249.17 287.90,251.90 C290.82,254.63 290.93,256.27 295.00,260.50 C299.07,264.73 306.52,273.22 312.30,277.30 C318.08,281.38 323.38,282.98 329.70,285.00 C336.02,287.02 346.78,288.67 350.20,289.40" stroke="#4f9cf0" stroke-width="1.35" fill="none"/>
<path d="M237.60,237.80 C238.83,238.32 241.93,239.67 245.00,240.90 C248.07,242.13 252.32,243.80 256.00,245.20 C259.68,246.60 263.10,247.87 267.10,249.30 C271.10,250.73 276.10,252.33 280.00,253.80 C283.90,255.27 288.00,257.08 290.50,258.10 C293.00,259.12 285.05,254.72 295.00,259.90 C304.95,265.08 341.00,284.32 350.20,289.20" stroke="#f5841f" stroke-width="1.35" fill="none"/>
<path d="M237.60,237.20 C238.17,237.47 239.77,237.33 241.00,238.80 C242.23,240.27 243.58,243.27 245.00,246.00 C246.42,248.73 247.33,252.15 249.50,255.20 C251.67,258.25 255.00,261.77 258.00,264.30 C261.00,266.83 264.25,269.08 267.50,270.40 C270.75,271.72 273.63,271.70 277.50,272.20 C281.37,272.70 288.50,273.20 290.70,273.40" stroke="#1a9bb0" stroke-width="1.35" fill="none"/>
<path d="M350.2,240.5 V246.6 M347.9,240.5 H352.5 M347.9,246.6 H352.5" stroke="#000" stroke-width="1.1" fill="none"/>
<circle cx="237.6" cy="237.5" r="1.7" fill="#000"/>
<circle cx="249.5" cy="239.6" r="1.7" fill="#000"/>
<circle cx="267.1" cy="237.0" r="1.7" fill="#000"/>
<circle cx="290.7" cy="237.3" r="1.7" fill="#000"/>
<circle cx="350.2" cy="243.3" r="1.7" fill="#000"/>
<path d="M350.2,279.5 V298.9 M347.9,279.5 H352.5 M347.9,298.9 H352.5" stroke="#4f9cf0" stroke-width="1.1" fill="none"/>
<rect x="235.6" y="233.2" width="4.0" height="4.0" fill="#4f9cf0"/>
<rect x="247.5" y="234.2" width="4.0" height="4.0" fill="#4f9cf0"/>
<rect x="265.1" y="237.9" width="4.0" height="4.0" fill="#4f9cf0"/>
<rect x="288.7" y="253.8" width="4.0" height="4.0" fill="#4f9cf0"/>
<rect x="348.2" y="287.4" width="4.0" height="4.0" fill="#4f9cf0"/>
<path d="M290.7,251.6 V259.7 M288.4,251.6 H293.0 M288.4,259.7 H293.0" stroke="#f5841f" stroke-width="1.1" fill="none"/>
<path d="M237.6,235.16000000000003 L239.79999999999998,239.56 L235.4,239.56 Z" fill="#f5841f"/>
<path d="M249.5,243.36 L251.7,247.76 L247.3,247.76 Z" fill="#f5841f"/>
<path d="M267.1,246.66000000000003 L269.3,251.06 L264.90000000000003,251.06 Z" fill="#f5841f"/>
<path d="M290.7,254.46000000000004 L292.9,258.86 L288.5,258.86 Z" fill="#f5841f"/>
<path d="M350.2,286.26 L352.4,290.65999999999997 L348.0,290.65999999999997 Z" fill="#f5841f"/>
<path d="M237.6,233.6 V241.0 M235.29999999999998,233.6 H239.9 M235.29999999999998,241.0 H239.9" stroke="#1a9bb0" stroke-width="1.1" fill="none"/>
<path d="M237.6,235.2 L239.6,237.2 L237.6,239.2 L235.6,237.2 Z" fill="#1a9bb0"/>
<path d="M249.5,253.4 L251.5,255.4 L249.5,257.4 L247.5,255.4 Z" fill="#1a9bb0"/>
<path d="M267.1,268.4 L269.1,270.4 L267.1,272.4 L265.1,270.4 Z" fill="#1a9bb0"/>
<path d="M290.7,271.4 L292.7,273.4 L290.7,275.4 L288.7,273.4 Z" fill="#1a9bb0"/>
<path d="M234.2,283.0 H245.0" stroke="#000" stroke-width="1.4"/>
<circle cx="239.7" cy="283.0" r="2.0" fill="#000"/>
<text x="0" y="0" transform="translate(250.1,286.0) scale(1,1.0)" font-size="8.8" text-anchor="start" fill="#000" stroke="#000" stroke-width="0.3" >Non-responders</text>
<path d="M234.2,292.1 H245.0" stroke="#4f9cf0" stroke-width="1.4"/>
<rect x="237.79999999999998" y="290.20000000000005" width="3.8" height="3.8" fill="#4f9cf0"/>
<text x="0" y="0" transform="translate(250.1,295.1) scale(1,1.0)" font-size="8.8" text-anchor="start" fill="#000" stroke="#000" stroke-width="0.3" >Normal</text>
<path d="M234.2,301.2 H245.0" stroke="#f5841f" stroke-width="1.4"/>
<path d="M239.7,298.68 L241.79999999999998,302.88 L237.6,302.88 Z" fill="#f5841f"/>
<text x="0" y="0" transform="translate(250.1,304.2) scale(1,1.0)" font-size="8.8" text-anchor="start" fill="#000" stroke="#000" stroke-width="0.3" >Medium</text>
<path d="M234.2,310.3 H245.0" stroke="#1a9bb0" stroke-width="1.4"/>
<path d="M239.7,308.1 L241.89999999999998,310.3 L239.7,312.5 L237.5,310.3 Z" fill="#1a9bb0"/>
<text x="0" y="0" transform="translate(250.1,313.3) scale(1,1.0)" font-size="8.8" text-anchor="start" fill="#000" stroke="#000" stroke-width="0.3" >Low threshold</text>
<g stroke="#000" stroke-width="1.1" fill="none">
<path d="M435.5,224.2 V317.5"/>
<path d="M434.95,317.5 H575"/>
<path d="M431.5,224.75 H435.5"/>
<path d="M431.5,243.3 H435.5"/>
<path d="M431.5,261.85 H435.5"/>
<path d="M431.5,280.4 H435.5"/>
<path d="M431.5,298.95 H435.5"/>
<path d="M431.5,317.5 H435.5"/>
<path d="M463.5,317.5 V320.5"/>
<path d="M505.0,317.5 V320.5"/>
<path d="M546.5,317.5 V320.5"/>
</g>
<text x="0" y="0" transform="translate(430.8,227.9) scale(1,1.1)" font-size="8.8" font-weight="bold" text-anchor="end" fill="#000" stroke="#000" stroke-width="0.26" >5</text>
<text x="0" y="0" transform="translate(430.8,246.5) scale(1,1.1)" font-size="8.8" font-weight="bold" text-anchor="end" fill="#000" stroke="#000" stroke-width="0.26" >0</text>
<text x="0" y="0" transform="translate(430.8,265.1) scale(1,1.1)" font-size="8.8" font-weight="bold" text-anchor="end" fill="#000" stroke="#000" stroke-width="0.26" >-5</text>
<text x="0" y="0" transform="translate(430.8,283.6) scale(1,1.1)" font-size="8.8" font-weight="bold" text-anchor="end" fill="#000" stroke="#000" stroke-width="0.26" >-10</text>
<text x="0" y="0" transform="translate(430.8,302.1) scale(1,1.1)" font-size="8.8" font-weight="bold" text-anchor="end" fill="#000" stroke="#000" stroke-width="0.26" >-15</text>
<text x="0" y="0" transform="translate(430.8,320.7) scale(1,1.1)" font-size="8.8" font-weight="bold" text-anchor="end" fill="#000" stroke="#000" stroke-width="0.26" >-20</text>
<text x="0" y="0" transform="translate(463.6,330.4) scale(1,1.1)" font-size="8.8" font-weight="bold" text-anchor="middle" fill="#000" stroke="#000" stroke-width="0.26" >5</text>
<text x="0" y="0" transform="translate(505.0,330.4) scale(1,1.1)" font-size="8.8" font-weight="bold" text-anchor="middle" fill="#000" stroke="#000" stroke-width="0.26" >10</text>
<text x="0" y="0" transform="translate(546.6,330.4) scale(1,1.1)" font-size="8.8" font-weight="bold" text-anchor="middle" fill="#000" stroke="#000" stroke-width="0.26" >20</text>
<path d="M436.5,243.5 H573" stroke="#000" stroke-width="1.0" stroke-dasharray="1.25,1.62" fill="none"/>
<text x="0" y="0" transform="translate(412.1,269.5) rotate(-90) scale(1,1.0)" font-size="10.6" text-anchor="middle" fill="#000" stroke="#000" stroke-width="0.3" >HR reduction (%)</text>
<text x="0" y="0" transform="translate(511.6,344.0) scale(1,1.0)" font-size="10.2" text-anchor="middle" fill="#000" stroke="#000" stroke-width="0.3" >Frequency (Hz)</text>
<text x="0" y="0" transform="translate(502.2,213.8) scale(1,1.0)" font-size="9.5" font-weight="bold" text-anchor="middle" fill="#000" stroke="#000" stroke-width="0.26" >Longitudinal: Frequency</text>
<path d="M461.8,229.4 H548" stroke="#000" stroke-width="1.2"/>
<text x="0" y="0" transform="translate(504.8,228.6) scale(1,1.0)" font-size="10.5" font-weight="bold" text-anchor="middle" fill="#000" stroke="#000" stroke-width="0.26" >*</text>
<text x="0" y="0" transform="translate(442.9,296.7) scale(1,1.0)" font-size="8.8" text-anchor="start" fill="#000" stroke="#000" stroke-width="0.3" >PD: 266 µs</text>
<text x="0" y="0" transform="translate(442.9,306.2) scale(1,1.0)" font-size="8.8" text-anchor="start" fill="#000" stroke="#000" stroke-width="0.3" >0.026 µC/phase</text>
<polyline points="463.6,240.9 505.0,243.5 546.6,255.8" fill="none" stroke="#000" stroke-width="1.1" stroke-dasharray="2.6,1.6"/>
<polyline points="463.6,242.2 505.0,246.5 546.6,257.5" fill="none" stroke="#000" stroke-width="1.1" stroke-dasharray="2.6,1.6"/>
<polyline points="463.6,248.0 505.0,259.7 546.6,259.8" fill="none" stroke="#000" stroke-width="1.1" stroke-dasharray="2.6,1.6"/>
<polyline points="463.6,250.0 546.6,257.5" fill="none" stroke="#000" stroke-width="1.1" stroke-dasharray="2.6,1.6"/>
<polyline points="463.6,255.8 505.0,273.4 546.6,290.2" fill="none" stroke="#000" stroke-width="1.1" stroke-dasharray="2.6,1.6"/>
<polyline points="463.6,257.8 505.0,276.0 546.6,305.8" fill="none" stroke="#000" stroke-width="1.1" stroke-dasharray="2.6,1.6"/>
<circle cx="463.6" cy="240.9" r="2.1" fill="#000"/>
<circle cx="505.0" cy="243.5" r="2.0" fill="#4a90e2" stroke="#1a2a40" stroke-width="0.6"/>
<circle cx="546.6" cy="255.8" r="2.0" fill="#f7a23a" stroke="#3a2a10" stroke-width="0.6"/>
<circle cx="463.6" cy="242.2" r="2.1" fill="#000"/>
<circle cx="505.0" cy="246.5" r="2.0" fill="#4a90e2" stroke="#1a2a40" stroke-width="0.6"/>
<circle cx="546.6" cy="257.5" r="2.0" fill="#f7a23a" stroke="#3a2a10" stroke-width="0.6"/>
<circle cx="463.6" cy="248.0" r="2.1" fill="#000"/>
<circle cx="505.0" cy="259.7" r="2.0" fill="#4a90e2" stroke="#1a2a40" stroke-width="0.6"/>
<circle cx="546.6" cy="259.8" r="2.0" fill="#f7a23a" stroke="#3a2a10" stroke-width="0.6"/>
<circle cx="463.6" cy="250.0" r="2.1" fill="#000"/>
<circle cx="546.6" cy="257.5" r="2.0" fill="#f7a23a" stroke="#3a2a10" stroke-width="0.6"/>
<circle cx="463.6" cy="255.8" r="2.1" fill="#000"/>
<circle cx="505.0" cy="273.4" r="2.0" fill="#4a90e2" stroke="#1a2a40" stroke-width="0.6"/>
<circle cx="546.6" cy="290.2" r="2.0" fill="#f7a23a" stroke="#3a2a10" stroke-width="0.6"/>
<circle cx="463.6" cy="257.8" r="2.1" fill="#000"/>
<circle cx="505.0" cy="276.0" r="2.0" fill="#4a90e2" stroke="#1a2a40" stroke-width="0.6"/>
<circle cx="546.6" cy="305.8" r="2.0" fill="#f7a23a" stroke="#3a2a10" stroke-width="0.6"/>
</svg>
</body></html>
